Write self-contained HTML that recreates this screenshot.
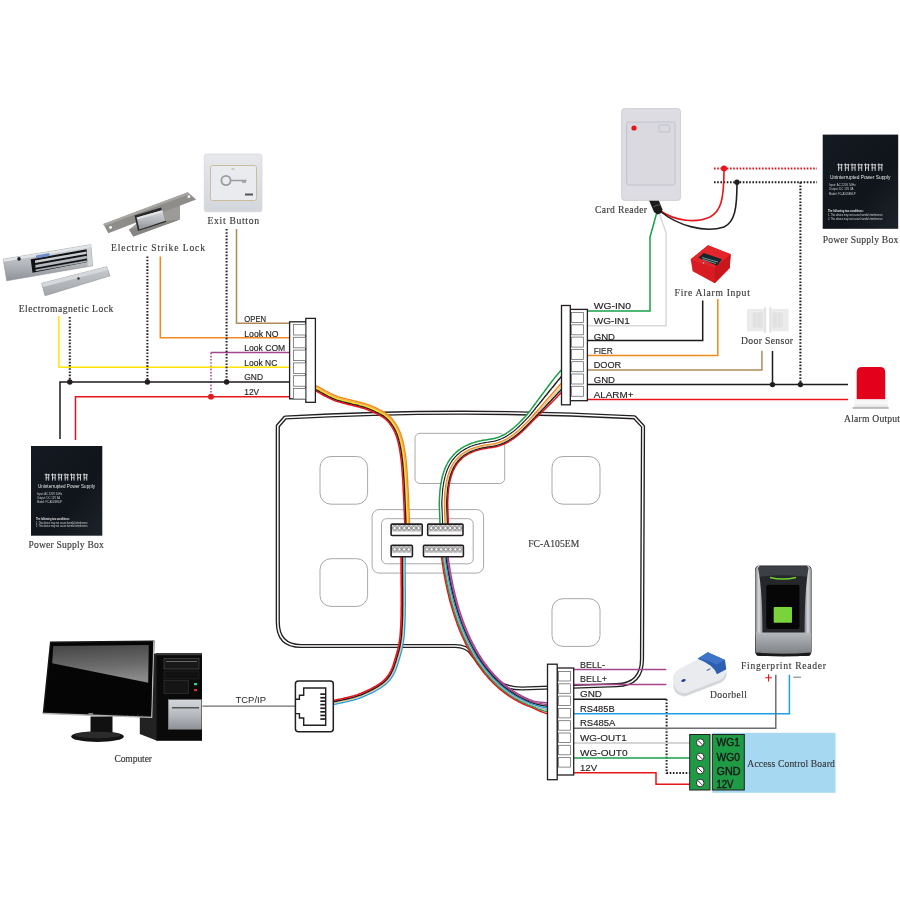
<!DOCTYPE html>
<html><head><meta charset="utf-8">
<style>
html,body{margin:0;padding:0;background:#fff;width:900px;height:900px;overflow:hidden}
svg{display:block;will-change:transform}
.lb{font-family:"Liberation Sans",sans-serif;fill:#231f20}
.cap{font-family:"Liberation Serif",serif;fill:#3a3a3a;stroke:#3a3a3a;stroke-width:0.15}
</style></head><body>
<svg width="900" height="900" viewBox="0 0 900 900">
<rect width="900" height="900" fill="#fff"/>
<!-- ===== BOARD ===== -->
<g id="board" fill="none">
<path d="M285.2,417.5 Q460,408 634.4,417.3 L643,426.4 L642,659 Q642,684.5 617,685.2 L522,688.5 Q506,688.5 495,680.5 L472,654 Q467,646 455,646 L301,646 Q277.8,646 277.8,622 L277.8,426 Z" stroke="#231f20" stroke-width="4.2" stroke-linejoin="round"/>
<path d="M285.2,417.5 Q460,408 634.4,417.3 L643,426.4 L642,659 Q642,684.5 617,685.2 L522,688.5 Q506,688.5 495,680.5 L472,654 Q467,646 455,646 L301,646 Q277.8,646 277.8,622 L277.8,426 Z" stroke="#fff" stroke-width="1.5" stroke-linejoin="round"/>
<g stroke="#a8a8a8" stroke-width="1">
<rect x="320" y="456.5" width="47.6" height="47.7" rx="11"/>
<rect x="320" y="558.7" width="47.6" height="47.7" rx="11"/>
<rect x="552" y="456.5" width="48" height="47.7" rx="11"/>
<rect x="552" y="598.7" width="48" height="47.7" rx="11"/>
<rect x="415" y="433.3" width="89.7" height="50.2" rx="5"/>
<rect x="372.1" y="509.6" width="111.5" height="63.5" rx="7"/>
<rect x="381.5" y="518.7" width="91.7" height="45.1" rx="5"/>
</g>
<text x="528.2" y="547.1" class="cap" font-size="9.6" textLength="51" lengthAdjust="spacing" stroke="#3a3a3a" stroke-width="0.15">FC-A105EM</text>
</g>



<g id="cables"><polyline fill="none" stroke="#f08a1c" stroke-width="1.50" stroke-linejoin="round" points="309.1,382.8 309.0,382.9 308.8,383.1 308.7,383.3 308.7,383.4 308.8,383.5 308.9,383.6 309.2,383.7 309.4,383.8 309.8,383.9 310.1,383.9 310.5,384.0 310.9,384.1 311.3,384.2 311.8,384.4 312.2,384.5 312.7,384.7 313.1,384.8 313.6,385.0 314.1,385.3 314.6,385.5 315.1,385.7 315.7,385.8 316.3,386.0 316.9,386.3 317.5,386.5 318.2,386.8 318.8,387.1 319.5,387.5 320.2,387.9 320.9,388.2 321.6,388.6 322.3,389.0 323.1,389.5 323.8,389.9 324.6,390.4 325.4,390.8 326.3,391.3 327.1,391.7 328.0,392.2 328.9,392.7 329.8,393.2 330.7,393.6 331.7,394.1 332.6,394.5 333.6,395.0 334.7,395.4 335.7,395.8 336.8,396.2 337.9,396.6 339.2,397.0 340.4,397.4 341.8,397.8 343.2,398.2 344.6,398.6 346.1,398.9 347.6,399.3 349.2,399.7 350.8,400.1 352.4,400.5 354.0,400.9 355.6,401.3 357.2,401.7 358.8,402.1 360.4,402.5 362.0,402.9 363.5,403.3 365.0,403.8 366.5,404.3 368.0,404.7 369.3,405.2 370.7,405.8 372.0,406.3 373.1,406.8 374.3,407.3 375.4,407.8 376.5,408.3 377.6,408.8 378.6,409.3 379.7,409.9 380.7,410.4 381.7,410.9 382.7,411.5 383.6,412.0 384.6,412.6 385.5,413.2 386.4,413.8 387.3,414.5 388.2,415.2 389.0,415.9 389.9,416.7 390.7,417.5 391.5,418.3 392.3,419.2 393.0,420.2 393.8,421.1 394.5,422.1 395.2,423.2 395.8,424.2 396.4,425.2 397.0,426.2 397.6,427.2 398.2,428.3 398.7,429.4 399.2,430.5 399.7,431.6 400.2,432.8 400.7,434.0 401.1,435.3 401.5,436.6 401.9,437.9 402.3,439.3 402.7,440.8 403.1,442.3 403.4,443.9 403.8,445.6 404.1,447.3 404.4,449.1 404.7,451.0 405.1,453.1 405.4,455.2 405.7,457.5 406.0,460.0 406.3,462.7 406.5,465.6 406.8,468.7 407.0,471.9 407.2,475.2 407.4,478.6 407.7,482.1 407.8,485.6 408.0,489.1 408.2,492.6 408.4,496.1 408.5,499.6 408.7,502.9 408.8,506.2 408.9,509.3 409.1,512.3 409.2,515.2 409.3,517.8 409.4,520.2 409.5,522.4 409.6,524.3 409.7,525.9"/>
<polyline fill="none" stroke="#f5a94a" stroke-width="1.50" stroke-linejoin="round" points="309.1,385.4 309.1,385.5 309.1,385.5 309.1,385.6 309.2,385.7 309.3,385.7 309.5,385.7 309.7,385.8 309.9,385.8 310.2,385.8 310.4,385.8 310.7,385.8 311.1,385.9 311.4,385.9 311.8,386.0 312.2,386.0 312.6,386.1 313.0,386.2 313.4,386.4 313.8,386.5 314.3,386.7 314.8,386.8 315.3,387.0 315.9,387.2 316.4,387.4 317.0,387.6 317.7,387.9 318.3,388.2 319.0,388.6 319.6,388.9 320.3,389.3 321.0,389.7 321.7,390.1 322.5,390.5 323.2,391.0 324.0,391.4 324.8,391.9 325.7,392.3 326.5,392.8 327.4,393.3 328.3,393.8 329.2,394.2 330.2,394.7 331.1,395.2 332.1,395.6 333.2,396.1 334.2,396.5 335.3,397.0 336.4,397.4 337.6,397.8 338.8,398.2 340.1,398.6 341.4,399.0 342.9,399.3 344.3,399.7 345.8,400.1 347.3,400.5 348.9,400.9 350.5,401.2 352.1,401.6 353.7,402.0 355.3,402.4 356.9,402.8 358.5,403.2 360.1,403.6 361.6,404.1 363.2,404.5 364.7,404.9 366.1,405.4 367.6,405.9 368.9,406.4 370.2,406.9 371.5,407.4 372.7,407.9 373.8,408.4 374.9,408.9 376.0,409.4 377.1,409.9 378.1,410.4 379.1,410.9 380.1,411.4 381.1,412.0 382.1,412.5 383.0,413.0 383.9,413.6 384.8,414.2 385.7,414.8 386.6,415.5 387.4,416.1 388.2,416.8 389.0,417.6 389.8,418.3 390.6,419.1 391.3,420.0 392.1,420.9 392.8,421.8 393.5,422.8 394.2,423.8 394.8,424.8 395.4,425.8 396.0,426.8 396.6,427.8 397.1,428.9 397.6,429.9 398.1,431.0 398.6,432.1 399.1,433.2 399.5,434.4 400.0,435.6 400.4,436.9 400.8,438.2 401.2,439.6 401.5,441.1 401.9,442.6 402.2,444.1 402.6,445.8 402.9,447.5 403.2,449.3 403.6,451.2 403.9,453.2 404.2,455.3 404.5,457.6 404.8,460.1 405.1,462.8 405.3,465.7 405.6,468.8 405.8,472.0 406.0,475.3 406.2,478.7 406.5,482.1 406.6,485.7 406.8,489.2 407.0,492.7 407.2,496.2 407.3,499.6 407.5,503.0 407.6,506.2 407.7,509.4 407.9,512.4 408.0,515.2 408.1,517.8 408.2,520.2 408.3,522.4 408.4,524.3 408.5,525.9"/>
<polyline fill="none" stroke="#f7e51e" stroke-width="1.50" stroke-linejoin="round" points="309.0,388.0 309.1,388.0 309.3,388.0 309.5,388.0 309.6,387.9 309.8,387.9 310.0,387.9 310.1,387.8 310.3,387.8 310.5,387.7 310.8,387.7 311.0,387.7 311.2,387.6 311.5,387.6 311.8,387.6 312.1,387.6 312.4,387.6 312.8,387.6 313.2,387.7 313.6,387.8 314.0,387.9 314.5,388.0 314.9,388.1 315.5,388.3 316.0,388.5 316.6,388.7 317.2,389.0 317.8,389.3 318.4,389.6 319.1,390.0 319.7,390.3 320.4,390.7 321.1,391.1 321.9,391.6 322.7,392.0 323.4,392.4 324.2,392.9 325.1,393.4 325.9,393.9 326.8,394.3 327.7,394.8 328.7,395.3 329.6,395.8 330.6,396.3 331.6,396.7 332.7,397.2 333.8,397.6 334.9,398.1 336.0,398.5 337.2,398.9 338.4,399.3 339.7,399.7 341.1,400.1 342.5,400.5 344.0,400.9 345.5,401.3 347.1,401.6 348.6,402.0 350.2,402.4 351.8,402.8 353.4,403.2 355.0,403.6 356.6,404.0 358.2,404.4 359.8,404.8 361.3,405.2 362.8,405.6 364.3,406.1 365.8,406.5 367.2,407.0 368.5,407.5 369.8,408.0 371.0,408.5 372.2,409.0 373.3,409.5 374.4,410.0 375.5,410.5 376.5,411.0 377.6,411.5 378.6,412.0 379.6,412.5 380.5,413.0 381.5,413.5 382.4,414.1 383.3,414.6 384.2,415.2 385.0,415.8 385.8,416.4 386.6,417.1 387.4,417.7 388.2,418.4 389.0,419.2 389.7,420.0 390.4,420.8 391.1,421.6 391.8,422.5 392.5,423.5 393.2,424.5 393.8,425.4 394.4,426.4 395.0,427.4 395.5,428.4 396.0,429.4 396.6,430.4 397.0,431.5 397.5,432.6 398.0,433.7 398.4,434.8 398.8,436.0 399.2,437.3 399.6,438.6 400.0,439.9 400.4,441.4 400.7,442.8 401.1,444.4 401.4,446.0 401.7,447.7 402.1,449.5 402.4,451.4 402.7,453.4 403.0,455.5 403.3,457.8 403.6,460.3 403.9,463.0 404.1,465.8 404.4,468.9 404.6,472.1 404.8,475.4 405.1,478.8 405.3,482.2 405.4,485.7 405.6,489.2 405.8,492.8 406.0,496.2 406.1,499.7 406.3,503.0 406.4,506.3 406.5,509.4 406.7,512.4 406.8,515.3 406.9,517.9 407.0,520.3 407.1,522.5 407.2,524.4 407.3,526.0"/>
<polyline fill="none" stroke="#231f20" stroke-width="1.50" stroke-linejoin="round" points="308.9,390.6 309.2,390.5 309.5,390.4 309.8,390.3 310.1,390.2 310.3,390.1 310.5,390.0 310.6,389.9 310.8,389.8 310.9,389.7 311.1,389.6 311.2,389.5 311.4,389.4 311.6,389.3 311.8,389.2 312.1,389.1 312.3,389.1 312.6,389.0 313.0,389.0 313.3,389.0 313.7,389.0 314.1,389.1 314.6,389.3 315.1,389.4 315.6,389.6 316.1,389.8 316.7,390.1 317.2,390.4 317.9,390.7 318.5,391.0 319.2,391.4 319.8,391.8 320.6,392.2 321.3,392.6 322.1,393.0 322.8,393.5 323.7,394.0 324.5,394.4 325.4,394.9 326.3,395.4 327.2,395.9 328.1,396.4 329.1,396.9 330.1,397.3 331.2,397.8 332.2,398.3 333.3,398.7 334.4,399.2 335.6,399.6 336.8,400.1 338.1,400.5 339.4,400.9 340.8,401.3 342.2,401.7 343.7,402.0 345.2,402.4 346.8,402.8 348.3,403.2 349.9,403.6 351.5,404.0 353.1,404.4 354.7,404.7 356.3,405.1 357.9,405.5 359.5,406.0 361.0,406.4 362.5,406.8 364.0,407.2 365.4,407.7 366.8,408.1 368.1,408.6 369.3,409.1 370.5,409.6 371.7,410.1 372.8,410.6 373.9,411.1 375.0,411.6 376.0,412.1 377.1,412.6 378.1,413.1 379.0,413.6 380.0,414.1 380.9,414.6 381.8,415.1 382.6,415.6 383.5,416.2 384.3,416.8 385.1,417.4 385.9,418.0 386.6,418.6 387.4,419.3 388.1,420.0 388.8,420.8 389.5,421.6 390.2,422.4 390.9,423.3 391.5,424.2 392.2,425.1 392.8,426.1 393.4,427.0 393.9,428.0 394.5,429.0 395.0,429.9 395.5,430.9 396.0,432.0 396.4,433.0 396.9,434.1 397.3,435.2 397.7,436.4 398.1,437.6 398.5,438.9 398.8,440.2 399.2,441.6 399.6,443.1 399.9,444.6 400.2,446.3 400.6,448.0 400.9,449.7 401.2,451.6 401.5,453.6 401.8,455.7 402.1,457.9 402.4,460.4 402.7,463.1 402.9,465.9 403.2,469.0 403.4,472.2 403.6,475.4 403.9,478.8 404.1,482.3 404.3,485.8 404.4,489.3 404.6,492.8 404.8,496.3 404.9,499.7 405.1,503.1 405.2,506.3 405.3,509.5 405.5,512.5 405.6,515.3 405.7,517.9 405.8,520.4 405.9,522.5 406.0,524.4 406.1,526.1"/>
<polyline fill="none" stroke="#e8141c" stroke-width="1.50" stroke-linejoin="round" points="308.9,393.2 309.3,393.1 309.8,392.9 310.2,392.7 310.5,392.5 310.8,392.3 311.0,392.1 311.1,391.9 311.2,391.8 311.3,391.6 311.4,391.4 311.5,391.3 311.6,391.1 311.7,391.0 311.9,390.8 312.0,390.7 312.2,390.6 312.5,390.4 312.8,390.3 313.1,390.3 313.4,390.2 313.8,390.3 314.2,390.4 314.7,390.6 315.1,390.7 315.6,390.9 316.2,391.2 316.7,391.4 317.3,391.7 317.9,392.1 318.6,392.4 319.3,392.8 320.0,393.2 320.7,393.6 321.5,394.1 322.2,394.5 323.1,395.0 323.9,395.5 324.8,396.0 325.7,396.4 326.6,396.9 327.6,397.4 328.6,397.9 329.6,398.4 330.7,398.9 331.7,399.4 332.9,399.9 334.0,400.3 335.2,400.8 336.4,401.2 337.7,401.6 339.1,402.0 340.5,402.4 341.9,402.8 343.4,403.2 344.9,403.6 346.5,404.0 348.1,404.4 349.6,404.7 351.2,405.1 352.8,405.5 354.4,405.9 356.0,406.3 357.6,406.7 359.2,407.1 360.7,407.5 362.2,408.0 363.6,408.4 365.0,408.8 366.4,409.3 367.7,409.7 368.9,410.2 370.0,410.7 371.2,411.2 372.3,411.7 373.4,412.2 374.5,412.7 375.5,413.2 376.5,413.7 377.5,414.1 378.5,414.6 379.4,415.1 380.3,415.6 381.1,416.1 382.0,416.6 382.8,417.2 383.6,417.7 384.4,418.3 385.1,418.9 385.9,419.5 386.6,420.2 387.3,420.9 387.9,421.6 388.6,422.3 389.3,423.1 389.9,424.0 390.5,424.9 391.1,425.8 391.7,426.7 392.3,427.7 392.9,428.6 393.4,429.5 393.9,430.5 394.4,431.5 394.9,432.5 395.3,433.5 395.7,434.6 396.1,435.7 396.6,436.8 396.9,438.0 397.3,439.2 397.7,440.6 398.0,441.9 398.4,443.4 398.7,444.9 399.1,446.5 399.4,448.2 399.7,450.0 400.0,451.8 400.3,453.8 400.6,455.8 400.9,458.1 401.2,460.5 401.5,463.2 401.7,466.0 402.0,469.1 402.2,472.2 402.4,475.5 402.7,478.9 402.9,482.4 403.1,485.8 403.2,489.4 403.4,492.9 403.6,496.3 403.7,499.8 403.9,503.1 404.0,506.4 404.1,509.5 404.3,512.5 404.4,515.4 404.5,518.0 404.6,520.4 404.7,522.6 404.8,524.5 404.9,526.1"/>
<polyline fill="none" stroke="#e8141c" stroke-width="1.50" stroke-linejoin="round" points="573.3,379.5 566.7,387.0 565.3,388.4 564.0,389.8 562.6,391.2 561.3,392.6 559.9,393.9 558.6,395.3 557.4,396.6 556.1,397.9 554.9,399.2 553.6,400.4 552.4,401.7 551.2,402.9 550.0,404.1 548.9,405.2 547.7,406.4 546.6,407.5 545.5,408.6 544.4,409.7 543.3,410.8 542.2,411.9 541.1,412.9 540.1,413.9 539.0,414.9 538.0,415.9 537.0,416.9 536.0,417.8 535.0,418.8 534.0,419.7 533.0,420.6 532.2,421.5 531.3,422.4 530.4,423.4 529.6,424.3 528.7,425.1 527.9,426.0 527.1,426.8 526.2,427.7 525.4,428.5 524.6,429.3 523.8,430.0 523.0,430.8 522.2,431.6 521.4,432.3 520.6,433.0 519.8,433.7 519.0,434.4 518.2,435.0 517.4,435.7 516.6,436.3 515.8,436.9 515.0,437.5 514.2,438.1 513.4,438.6 512.7,439.2 511.9,439.7 511.1,440.2 510.3,440.7 509.5,441.2 508.7,441.7 507.8,442.1 507.0,442.6 506.2,443.0 505.4,443.4 504.6,443.8 503.7,444.1 502.9,444.5 502.0,444.8 501.2,445.1 500.3,445.4 499.5,445.7 498.6,446.0 497.7,446.2 496.9,446.5 496.0,446.7 495.1,446.9 494.2,447.1 493.3,447.3 492.4,447.4 491.4,447.5 490.5,447.7 489.3,447.8 488.1,448.0 486.9,448.2 485.8,448.4 484.6,448.6 483.5,448.8 482.5,449.0 481.4,449.2 480.3,449.5 479.3,449.7 478.3,450.0 477.3,450.3 476.4,450.6 475.4,450.9 474.5,451.2 473.6,451.6 472.8,451.9 471.9,452.3 471.1,452.6 470.2,453.0 469.4,453.4 468.7,453.8 467.9,454.2 467.2,454.6 466.4,455.1 465.7,455.5 465.0,456.0 464.4,456.5 463.7,457.0 463.1,457.5 462.4,458.0 461.8,458.5 461.2,459.1 460.7,459.6 460.1,460.2 459.5,460.8 459.0,461.4 458.5,462.0 458.0,462.6 457.5,463.3 457.0,464.0 456.5,464.6 456.1,465.3 455.6,466.1 455.2,466.8 454.8,467.5 454.4,468.3 454.0,469.1 453.6,469.9 453.2,470.7 452.9,471.6 452.5,472.4 452.2,473.3 451.9,474.2 451.6,475.1 451.3,476.1 451.0,477.0 450.7,478.0 450.4,479.0 450.2,480.1 450.0,481.1 449.7,482.2 449.5,483.2 449.3,484.4 449.1,485.5 449.0,486.6 448.8,487.8 448.6,489.0 448.5,490.2 448.4,491.5 448.3,492.7 448.1,494.0 448.0,495.3 448.0,496.6 447.9,498.0 447.8,499.3 447.8,500.7 447.7,502.1 447.7,503.6 447.7,504.9 448.5,525.8"/>
<polyline fill="none" stroke="#231f20" stroke-width="1.50" stroke-linejoin="round" points="571.7,378.1 565.1,385.5 563.7,387.0 562.4,388.4 561.0,389.9 559.7,391.3 558.4,392.6 557.2,394.0 555.9,395.3 554.7,396.7 553.4,397.9 552.2,399.2 551.1,400.5 549.9,401.7 548.7,402.9 547.6,404.1 546.5,405.3 545.4,406.5 544.3,407.6 543.2,408.7 542.1,409.8 541.1,410.9 540.0,412.0 539.0,413.0 538.0,414.0 537.0,415.0 536.0,416.0 535.0,417.0 534.1,417.9 533.1,418.8 532.2,419.7 531.3,420.7 530.4,421.6 529.6,422.5 528.7,423.4 527.9,424.3 527.0,425.2 526.2,426.0 525.4,426.8 524.6,427.6 523.8,428.4 523.0,429.2 522.2,429.9 521.4,430.7 520.6,431.4 519.8,432.1 519.0,432.8 518.2,433.4 517.4,434.1 516.6,434.7 515.9,435.3 515.1,436.0 514.3,436.5 513.5,437.1 512.8,437.7 512.0,438.2 511.2,438.7 510.4,439.2 509.6,439.7 508.8,440.2 508.1,440.6 507.3,441.1 506.5,441.5 505.7,441.9 504.9,442.3 504.1,442.7 503.3,443.0 502.4,443.4 501.6,443.7 500.8,444.0 500.0,444.3 499.1,444.6 498.3,444.8 497.4,445.1 496.6,445.3 495.7,445.5 494.8,445.7 494.0,445.9 493.1,446.1 492.2,446.2 491.3,446.4 490.4,446.5 489.1,446.6 487.9,446.8 486.7,447.0 485.6,447.2 484.4,447.4 483.3,447.6 482.2,447.8 481.1,448.1 480.1,448.3 479.0,448.6 478.0,448.9 477.0,449.1 476.0,449.5 475.1,449.8 474.1,450.1 473.2,450.4 472.3,450.8 471.4,451.2 470.6,451.5 469.7,451.9 468.9,452.3 468.1,452.7 467.3,453.2 466.5,453.6 465.8,454.1 465.1,454.5 464.4,455.0 463.7,455.5 463.0,456.0 462.3,456.5 461.7,457.1 461.0,457.6 460.4,458.2 459.8,458.8 459.2,459.4 458.7,460.0 458.1,460.6 457.6,461.2 457.0,461.9 456.5,462.6 456.0,463.3 455.5,464.0 455.1,464.7 454.6,465.4 454.2,466.2 453.7,467.0 453.3,467.8 452.9,468.6 452.5,469.4 452.1,470.2 451.8,471.1 451.4,472.0 451.1,472.9 450.7,473.8 450.4,474.8 450.1,475.7 449.8,476.7 449.6,477.7 449.3,478.7 449.0,479.8 448.8,480.8 448.6,481.9 448.3,483.0 448.1,484.2 448.0,485.3 447.8,486.5 447.6,487.7 447.4,488.9 447.3,490.1 447.2,491.3 447.1,492.6 446.9,493.9 446.9,495.2 446.8,496.6 446.7,497.9 446.6,499.3 446.6,500.7 446.5,502.1 446.5,503.6 446.5,504.9 447.3,525.9"/>
<polyline fill="none" stroke="#e6c9a0" stroke-width="1.50" stroke-linejoin="round" points="570.0,376.7 563.5,384.1 562.1,385.6 560.8,387.1 559.5,388.5 558.2,389.9 556.9,391.3 555.7,392.7 554.4,394.1 553.2,395.4 552.0,396.7 550.8,398.0 549.7,399.3 548.5,400.6 547.4,401.8 546.3,403.0 545.2,404.2 544.1,405.4 543.1,406.6 542.0,407.7 541.0,408.8 539.9,409.9 538.9,411.0 537.9,412.0 536.9,413.1 536.0,414.1 535.0,415.1 534.1,416.1 533.1,417.1 532.2,418.0 531.3,418.9 530.4,419.9 529.5,420.8 528.7,421.7 527.8,422.6 527.0,423.5 526.2,424.3 525.4,425.1 524.5,426.0 523.7,426.8 522.9,427.5 522.1,428.3 521.3,429.1 520.5,429.8 519.8,430.5 519.0,431.2 518.2,431.9 517.4,432.5 516.7,433.2 515.9,433.8 515.1,434.4 514.4,435.0 513.6,435.6 512.8,436.1 512.1,436.7 511.3,437.2 510.5,437.7 509.8,438.2 509.0,438.7 508.2,439.2 507.5,439.6 506.7,440.0 505.9,440.4 505.1,440.8 504.4,441.2 503.6,441.6 502.8,441.9 502.0,442.3 501.2,442.6 500.4,442.9 499.6,443.2 498.8,443.4 497.9,443.7 497.1,443.9 496.3,444.2 495.4,444.4 494.6,444.6 493.7,444.7 492.9,444.9 492.0,445.0 491.1,445.2 490.2,445.3 489.0,445.4 487.7,445.6 486.5,445.8 485.4,446.0 484.2,446.2 483.1,446.4 481.9,446.6 480.8,446.9 479.8,447.1 478.7,447.4 477.7,447.7 476.7,448.0 475.7,448.3 474.7,448.6 473.7,449.0 472.8,449.3 471.9,449.7 471.0,450.0 470.1,450.4 469.2,450.8 468.4,451.3 467.5,451.7 466.7,452.1 465.9,452.6 465.2,453.1 464.4,453.5 463.7,454.0 462.9,454.5 462.2,455.1 461.6,455.6 460.9,456.2 460.2,456.7 459.6,457.3 459.0,457.9 458.4,458.5 457.8,459.2 457.2,459.8 456.6,460.5 456.1,461.2 455.6,461.9 455.0,462.6 454.5,463.3 454.1,464.0 453.6,464.8 453.1,465.6 452.7,466.4 452.2,467.2 451.8,468.0 451.4,468.9 451.0,469.8 450.7,470.7 450.3,471.6 449.9,472.5 449.6,473.4 449.3,474.4 449.0,475.4 448.7,476.4 448.4,477.4 448.1,478.4 447.9,479.5 447.6,480.6 447.4,481.7 447.2,482.8 447.0,483.9 446.8,485.1 446.6,486.3 446.4,487.5 446.3,488.7 446.1,490.0 446.0,491.2 445.9,492.5 445.8,493.8 445.7,495.1 445.6,496.5 445.5,497.9 445.4,499.2 445.4,500.7 445.3,502.1 445.3,503.5 445.3,504.9 446.1,525.9"/>
<polyline fill="none" stroke="#f08a1c" stroke-width="1.50" stroke-linejoin="round" points="568.3,375.2 561.8,382.7 560.5,384.2 559.2,385.7 557.9,387.2 556.6,388.6 555.4,390.0 554.2,391.4 553.0,392.8 551.8,394.2 550.6,395.5 549.5,396.8 548.3,398.1 547.2,399.4 546.1,400.7 545.0,401.9 543.9,403.1 542.9,404.3 541.8,405.5 540.8,406.7 539.8,407.8 538.8,408.9 537.8,410.0 536.9,411.1 535.9,412.2 535.0,413.2 534.0,414.2 533.1,415.2 532.2,416.2 531.3,417.2 530.4,418.1 529.5,419.1 528.7,420.0 527.8,420.9 527.0,421.8 526.1,422.6 525.3,423.5 524.5,424.3 523.7,425.1 522.9,425.9 522.1,426.7 521.3,427.4 520.5,428.2 519.7,428.9 519.0,429.6 518.2,430.3 517.4,431.0 516.7,431.6 515.9,432.2 515.1,432.9 514.4,433.5 513.6,434.0 512.9,434.6 512.1,435.2 511.4,435.7 510.6,436.2 509.9,436.7 509.1,437.2 508.4,437.7 507.6,438.1 506.9,438.6 506.1,439.0 505.4,439.4 504.6,439.8 503.8,440.1 503.1,440.5 502.3,440.8 501.5,441.2 500.8,441.5 500.0,441.8 499.2,442.0 498.4,442.3 497.6,442.5 496.8,442.8 496.0,443.0 495.2,443.2 494.3,443.4 493.5,443.6 492.7,443.7 491.8,443.9 490.9,444.0 490.1,444.1 488.8,444.3 487.6,444.4 486.4,444.6 485.2,444.8 484.0,445.0 482.8,445.2 481.7,445.5 480.6,445.7 479.5,446.0 478.4,446.3 477.3,446.5 476.3,446.8 475.3,447.2 474.3,447.5 473.3,447.8 472.4,448.2 471.4,448.6 470.5,448.9 469.6,449.3 468.7,449.8 467.8,450.2 467.0,450.6 466.1,451.1 465.3,451.5 464.5,452.0 463.7,452.5 463.0,453.0 462.2,453.6 461.5,454.1 460.8,454.7 460.1,455.3 459.4,455.8 458.8,456.5 458.1,457.1 457.5,457.7 456.9,458.4 456.3,459.0 455.7,459.7 455.1,460.4 454.6,461.1 454.1,461.9 453.5,462.6 453.0,463.4 452.5,464.2 452.1,465.0 451.6,465.8 451.2,466.7 450.7,467.5 450.3,468.4 449.9,469.3 449.5,470.2 449.2,471.1 448.8,472.1 448.5,473.0 448.1,474.0 447.8,475.0 447.5,476.0 447.2,477.1 447.0,478.1 446.7,479.2 446.4,480.3 446.2,481.4 446.0,482.6 445.8,483.7 445.6,484.9 445.4,486.1 445.2,487.3 445.1,488.6 444.9,489.8 444.8,491.1 444.7,492.4 444.6,493.7 444.5,495.1 444.4,496.4 444.3,497.8 444.2,499.2 444.2,500.6 444.1,502.1 444.1,503.5 444.1,505.0 444.9,526.0"/>
<polyline fill="none" stroke="#ffffff" stroke-width="1.50" stroke-linejoin="round" points="566.7,373.8 560.2,381.3 558.9,382.8 557.6,384.3 556.3,385.8 555.1,387.3 553.9,388.7 552.7,390.2 551.5,391.6 550.3,392.9 549.2,394.3 548.1,395.6 547.0,397.0 545.9,398.3 544.8,399.5 543.7,400.8 542.7,402.0 541.7,403.3 540.6,404.5 539.6,405.6 538.7,406.8 537.7,407.9 536.7,409.1 535.8,410.2 534.9,411.2 533.9,412.3 533.0,413.3 532.1,414.4 531.2,415.4 530.4,416.3 529.5,417.3 528.6,418.2 527.8,419.2 526.9,420.1 526.1,420.9 525.3,421.8 524.5,422.6 523.7,423.5 522.8,424.3 522.0,425.0 521.3,425.8 520.5,426.6 519.7,427.3 518.9,428.0 518.2,428.7 517.4,429.4 516.6,430.0 515.9,430.7 515.1,431.3 514.4,431.9 513.6,432.5 512.9,433.1 512.2,433.6 511.4,434.2 510.7,434.7 510.0,435.2 509.2,435.7 508.5,436.2 507.8,436.6 507.0,437.1 506.3,437.5 505.5,437.9 504.8,438.3 504.1,438.7 503.3,439.1 502.6,439.4 501.8,439.7 501.1,440.0 500.3,440.3 499.6,440.6 498.8,440.9 498.0,441.2 497.2,441.4 496.5,441.6 495.7,441.8 494.9,442.0 494.1,442.2 493.3,442.4 492.4,442.5 491.6,442.7 490.8,442.8 489.9,442.9 488.7,443.1 487.4,443.2 486.2,443.4 485.0,443.6 483.8,443.8 482.6,444.1 481.4,444.3 480.3,444.6 479.2,444.8 478.1,445.1 477.0,445.4 476.0,445.7 474.9,446.0 473.9,446.4 472.9,446.7 471.9,447.1 471.0,447.4 470.0,447.8 469.1,448.2 468.2,448.7 467.3,449.1 466.4,449.6 465.6,450.0 464.7,450.5 463.9,451.0 463.1,451.5 462.3,452.1 461.5,452.6 460.8,453.2 460.0,453.7 459.3,454.3 458.6,455.0 457.9,455.6 457.3,456.2 456.6,456.9 456.0,457.6 455.4,458.3 454.8,459.0 454.2,459.7 453.6,460.4 453.1,461.2 452.5,462.0 452.0,462.8 451.5,463.6 451.0,464.4 450.6,465.2 450.1,466.1 449.7,467.0 449.2,467.9 448.8,468.8 448.4,469.7 448.1,470.7 447.7,471.7 447.3,472.6 447.0,473.7 446.7,474.7 446.4,475.7 446.1,476.8 445.8,477.9 445.5,479.0 445.3,480.1 445.0,481.2 444.8,482.4 444.6,483.5 444.4,484.7 444.2,485.9 444.0,487.2 443.9,488.4 443.7,489.7 443.6,491.0 443.5,492.3 443.4,493.6 443.3,495.0 443.2,496.3 443.1,497.7 443.0,499.1 443.0,500.6 442.9,502.0 442.9,503.5 442.9,505.0 443.7,526.0"/>
<polyline fill="none" stroke="#231f20" stroke-width="1.50" stroke-linejoin="round" points="565.0,372.3 558.5,379.9 557.3,381.4 556.0,383.0 554.8,384.5 553.6,386.0 552.4,387.4 551.2,388.9 550.0,390.3 548.9,391.7 547.8,393.1 546.7,394.5 545.6,395.8 544.5,397.1 543.5,398.4 542.4,399.7 541.4,401.0 540.4,402.2 539.4,403.4 538.5,404.6 537.5,405.8 536.6,406.9 535.6,408.1 534.7,409.2 533.8,410.3 532.9,411.4 532.0,412.4 531.2,413.5 530.3,414.5 529.5,415.5 528.6,416.5 527.8,417.4 526.9,418.3 526.1,419.2 525.2,420.1 524.4,421.0 523.6,421.8 522.8,422.6 522.0,423.4 521.2,424.2 520.4,425.0 519.6,425.7 518.9,426.4 518.1,427.1 517.4,427.8 516.6,428.5 515.9,429.1 515.1,429.8 514.4,430.4 513.6,431.0 512.9,431.6 512.2,432.1 511.4,432.7 510.7,433.2 510.0,433.7 509.3,434.2 508.6,434.7 507.8,435.2 507.1,435.6 506.4,436.1 505.7,436.5 505.0,436.9 504.3,437.2 503.5,437.6 502.8,438.0 502.1,438.3 501.4,438.6 500.6,438.9 499.9,439.2 499.2,439.5 498.4,439.8 497.7,440.0 496.9,440.2 496.1,440.5 495.4,440.7 494.6,440.9 493.8,441.0 493.0,441.2 492.2,441.3 491.4,441.5 490.6,441.6 489.8,441.7 488.5,441.9 487.2,442.1 486.0,442.2 484.8,442.4 483.6,442.7 482.4,442.9 481.2,443.1 480.0,443.4 478.9,443.7 477.8,443.9 476.7,444.2 475.6,444.5 474.6,444.9 473.5,445.2 472.5,445.6 471.5,445.9 470.5,446.3 469.5,446.7 468.6,447.2 467.7,447.6 466.7,448.0 465.8,448.5 465.0,449.0 464.1,449.5 463.3,450.0 462.4,450.5 461.6,451.1 460.8,451.6 460.1,452.2 459.3,452.8 458.6,453.4 457.8,454.1 457.1,454.7 456.4,455.4 455.8,456.1 455.1,456.7 454.5,457.5 453.9,458.2 453.3,458.9 452.7,459.7 452.1,460.5 451.5,461.3 451.0,462.1 450.5,463.0 450.0,463.8 449.5,464.7 449.0,465.6 448.6,466.5 448.2,467.4 447.7,468.3 447.3,469.3 446.9,470.3 446.6,471.2 446.2,472.3 445.9,473.3 445.5,474.3 445.2,475.4 444.9,476.5 444.6,477.6 444.4,478.7 444.1,479.8 443.9,481.0 443.6,482.1 443.4,483.3 443.2,484.5 443.0,485.8 442.8,487.0 442.7,488.3 442.5,489.6 442.4,490.9 442.3,492.2 442.2,493.5 442.1,494.9 442.0,496.3 441.9,497.7 441.8,499.1 441.8,500.5 441.7,502.0 441.7,503.5 441.7,505.1 442.5,526.1"/>
<polyline fill="none" stroke="#ffffff" stroke-width="1.50" stroke-linejoin="round" points="563.3,370.9 556.9,378.5 555.7,380.0 554.4,381.6 553.2,383.1 552.0,384.6 550.8,386.1 549.7,387.6 548.6,389.0 547.4,390.5 546.4,391.9 545.3,393.3 544.2,394.6 543.2,396.0 542.2,397.3 541.1,398.6 540.2,399.9 539.2,401.1 538.2,402.4 537.3,403.6 536.3,404.8 535.4,406.0 534.5,407.1 533.6,408.3 532.8,409.4 531.9,410.5 531.0,411.6 530.2,412.6 529.4,413.7 528.6,414.7 527.7,415.7 526.9,416.6 526.0,417.5 525.2,418.4 524.4,419.3 523.6,420.1 522.7,421.0 521.9,421.8 521.2,422.6 520.4,423.3 519.6,424.1 518.8,424.8 518.1,425.5 517.3,426.2 516.6,426.9 515.8,427.6 515.1,428.2 514.3,428.9 513.6,429.5 512.9,430.1 512.2,430.6 511.4,431.2 510.7,431.7 510.0,432.2 509.3,432.7 508.6,433.2 507.9,433.7 507.2,434.2 506.5,434.6 505.8,435.0 505.1,435.4 504.4,435.8 503.7,436.2 503.0,436.5 502.3,436.9 501.6,437.2 500.9,437.5 500.2,437.8 499.5,438.1 498.7,438.4 498.0,438.6 497.3,438.9 496.6,439.1 495.8,439.3 495.1,439.5 494.3,439.7 493.6,439.9 492.8,440.0 492.0,440.2 491.2,440.3 490.4,440.4 489.6,440.5 488.3,440.7 487.1,440.9 485.8,441.1 484.6,441.3 483.3,441.5 482.1,441.7 480.9,442.0 479.8,442.2 478.6,442.5 477.5,442.8 476.4,443.1 475.3,443.4 474.2,443.7 473.1,444.1 472.1,444.4 471.1,444.8 470.1,445.2 469.1,445.6 468.1,446.1 467.1,446.5 466.2,447.0 465.3,447.4 464.4,447.9 463.5,448.5 462.6,449.0 461.8,449.5 460.9,450.1 460.1,450.7 459.3,451.3 458.5,451.9 457.8,452.5 457.0,453.2 456.3,453.8 455.6,454.5 454.9,455.2 454.2,455.9 453.6,456.7 452.9,457.4 452.3,458.2 451.7,459.0 451.1,459.8 450.6,460.6 450.0,461.5 449.5,462.3 449.0,463.2 448.5,464.1 448.0,465.0 447.5,465.9 447.1,466.9 446.6,467.8 446.2,468.8 445.8,469.8 445.4,470.8 445.1,471.9 444.7,472.9 444.4,474.0 444.1,475.1 443.8,476.2 443.5,477.3 443.2,478.4 442.9,479.6 442.7,480.7 442.5,481.9 442.2,483.1 442.0,484.3 441.8,485.6 441.7,486.9 441.5,488.1 441.3,489.4 441.2,490.7 441.1,492.1 441.0,493.4 440.9,494.8 440.8,496.2 440.7,497.6 440.6,499.0 440.6,500.5 440.5,502.0 440.5,503.5 440.5,505.1 441.3,526.1"/>
<polyline fill="none" stroke="#1aa04a" stroke-width="1.50" stroke-linejoin="round" points="561.7,369.5 555.3,377.0 554.0,378.6 552.8,380.2 551.6,381.8 550.5,383.3 549.3,384.8 548.2,386.3 547.1,387.8 546.0,389.2 544.9,390.7 543.9,392.1 542.9,393.5 541.8,394.8 540.8,396.2 539.9,397.5 538.9,398.8 537.9,400.1 537.0,401.3 536.1,402.6 535.2,403.8 534.3,405.0 533.4,406.2 532.6,407.3 531.7,408.4 530.9,409.6 530.0,410.7 529.2,411.7 528.4,412.8 527.6,413.8 526.9,414.9 526.0,415.8 525.2,416.7 524.3,417.6 523.5,418.4 522.7,419.3 521.9,420.1 521.1,420.9 520.3,421.7 519.5,422.5 518.8,423.2 518.0,424.0 517.2,424.7 516.5,425.4 515.8,426.0 515.0,426.7 514.3,427.3 513.6,427.9 512.8,428.5 512.1,429.1 511.4,429.7 510.7,430.2 510.0,430.8 509.3,431.3 508.6,431.8 507.9,432.2 507.2,432.7 506.6,433.1 505.9,433.6 505.2,434.0 504.5,434.4 503.8,434.8 503.1,435.1 502.5,435.5 501.8,435.8 501.1,436.1 500.4,436.4 499.7,436.7 499.0,437.0 498.3,437.2 497.6,437.5 496.9,437.7 496.2,437.9 495.5,438.2 494.8,438.3 494.1,438.5 493.3,438.7 492.6,438.8 491.8,439.0 491.0,439.1 490.3,439.2 489.5,439.3 488.2,439.5 486.9,439.7 485.6,439.9 484.4,440.1 483.1,440.3 481.9,440.5 480.7,440.8 479.5,441.0 478.3,441.3 477.2,441.6 476.0,441.9 474.9,442.3 473.8,442.6 472.8,442.9 471.7,443.3 470.6,443.7 469.6,444.1 468.6,444.5 467.6,445.0 466.6,445.4 465.7,445.9 464.7,446.4 463.8,446.9 462.9,447.4 462.0,448.0 461.1,448.5 460.3,449.1 459.4,449.7 458.6,450.3 457.8,450.9 457.0,451.6 456.2,452.3 455.5,453.0 454.7,453.7 454.0,454.4 453.3,455.1 452.7,455.9 452.0,456.7 451.4,457.5 450.7,458.3 450.1,459.1 449.6,460.0 449.0,460.8 448.4,461.7 447.9,462.6 447.4,463.5 446.9,464.5 446.4,465.4 446.0,466.4 445.5,467.4 445.1,468.4 444.7,469.4 444.3,470.4 443.9,471.5 443.6,472.5 443.2,473.6 442.9,474.7 442.6,475.8 442.3,477.0 442.0,478.1 441.8,479.3 441.5,480.5 441.3,481.7 441.0,482.9 440.8,484.2 440.6,485.4 440.5,486.7 440.3,488.0 440.1,489.3 440.0,490.6 439.9,492.0 439.8,493.3 439.7,494.7 439.6,496.1 439.5,497.6 439.4,499.0 439.4,500.5 439.3,501.9 439.3,503.4 439.3,505.1 440.1,526.2"/>
<polyline fill="none" stroke="#1ba1e2" stroke-width="1.60" stroke-linejoin="round" points="404.9,555.0 404.9,556.6 405.0,558.5 405.0,560.7 405.0,563.1 405.0,565.7 405.0,568.5 405.0,571.5 405.1,574.6 405.1,577.8 405.1,581.2 405.1,584.6 405.1,588.1 405.2,591.6 405.2,595.1 405.2,598.5 405.2,602.0 405.2,605.3 405.1,608.6 405.1,611.8 405.1,614.8 405.0,617.7 404.9,620.4 404.8,622.8 404.7,625.1 404.6,627.2 404.5,629.1 404.4,630.9 404.3,632.7 404.1,634.3 404.0,635.8 403.9,637.3 403.7,638.7 403.5,640.0 403.4,641.3 403.2,642.5 403.0,643.7 402.8,644.8 402.6,645.9 402.4,647.0 402.1,648.1 401.9,649.1 401.6,650.1 401.4,651.2 401.1,652.2 400.8,653.2 400.5,654.3 400.2,655.4 399.9,656.5 399.5,657.7 399.2,658.8 398.9,659.9 398.6,661.1 398.2,662.2 397.9,663.3 397.5,664.4 397.2,665.5 396.8,666.6 396.4,667.6 396.0,668.7 395.6,669.7 395.1,670.8 394.7,671.8 394.2,672.8 393.7,673.8 393.1,674.8 392.6,675.8 392.0,676.8 391.3,677.7 390.7,678.6 390.0,679.6 389.2,680.4 388.4,681.3 387.6,682.2 386.7,683.0 385.8,683.8 384.9,684.6 384.0,685.4 383.0,686.1 381.9,686.9 380.9,687.6 379.8,688.3 378.7,688.9 377.6,689.6 376.5,690.2 375.4,690.9 374.2,691.5 373.1,692.1 371.9,692.7 370.8,693.2 369.6,693.8 368.5,694.3 367.3,694.8 366.1,695.3 365.0,695.8 363.9,696.3 362.7,696.8 361.6,697.3 360.4,697.7 359.1,698.2 357.9,698.6 356.6,699.0 355.3,699.4 354.0,699.8 352.7,700.1 351.3,700.5 350.0,700.8 348.7,701.1 347.4,701.5 346.1,701.8 344.8,702.0 343.6,702.3 342.4,702.6 341.2,702.8 340.1,703.0 339.0,703.3 337.9,703.5 337.0,703.7 336.0,703.9 335.2,704.0 334.4,704.2 333.7,704.4 333.0,704.5 332.3,704.6 331.7,704.7 331.1,704.8 330.6,704.9 330.1,704.9 329.7,704.9 329.3,705.0 328.9,705.0 328.5,705.0 328.2,705.0 327.9,704.9 327.6,704.9 327.3,704.9 327.1,704.9 326.9,704.8 326.7,704.8 326.5,704.8 326.4,704.8 326.3,704.8 326.2,704.7 326.2,704.7 326.1,704.7"/>
<polyline fill="none" stroke="#e6c9a0" stroke-width="1.60" stroke-linejoin="round" points="403.6,555.0 403.6,556.6 403.7,558.5 403.7,560.7 403.7,563.1 403.7,565.7 403.7,568.5 403.7,571.5 403.8,574.6 403.8,577.8 403.8,581.2 403.8,584.6 403.8,588.1 403.9,591.6 403.9,595.1 403.9,598.5 403.9,602.0 403.9,605.3 403.8,608.6 403.8,611.8 403.8,614.8 403.7,617.7 403.6,620.3 403.5,622.8 403.4,625.0 403.3,627.1 403.2,629.0 403.1,630.8 403.0,632.6 402.9,634.2 402.7,635.7 402.6,637.2 402.4,638.6 402.3,639.9 402.1,641.1 401.9,642.3 401.7,643.5 401.5,644.6 401.3,645.7 401.1,646.7 400.9,647.8 400.6,648.8 400.4,649.8 400.1,650.8 399.8,651.9 399.6,652.9 399.3,654.0 398.9,655.1 398.6,656.2 398.3,657.3 398.0,658.5 397.6,659.6 397.3,660.7 397.0,661.8 396.6,662.9 396.3,664.0 395.9,665.1 395.6,666.1 395.2,667.2 394.8,668.2 394.4,669.2 393.9,670.3 393.5,671.3 393.0,672.3 392.5,673.2 392.0,674.2 391.4,675.1 390.9,676.1 390.2,677.0 389.6,677.9 388.9,678.7 388.2,679.6 387.5,680.4 386.7,681.3 385.9,682.1 385.0,682.8 384.1,683.6 383.2,684.4 382.2,685.1 381.2,685.8 380.2,686.5 379.1,687.2 378.1,687.8 377.0,688.5 375.9,689.1 374.8,689.7 373.6,690.3 372.5,690.9 371.4,691.5 370.2,692.0 369.1,692.6 367.9,693.1 366.8,693.6 365.6,694.1 364.5,694.6 363.4,695.1 362.2,695.6 361.1,696.1 359.9,696.5 358.7,696.9 357.5,697.4 356.2,697.8 354.9,698.1 353.6,698.5 352.3,698.9 351.0,699.2 349.7,699.6 348.4,699.9 347.1,700.2 345.8,700.5 344.5,700.8 343.3,701.0 342.1,701.3 340.9,701.5 339.8,701.8 338.7,702.0 337.7,702.2 336.7,702.4 335.8,702.6 334.9,702.8 334.1,702.9 333.4,703.1 332.7,703.2 332.1,703.3 331.5,703.4 331.0,703.5 330.5,703.6 330.0,703.6 329.6,703.6 329.2,703.7 328.9,703.7 328.5,703.7 328.2,703.7 327.9,703.6 327.7,703.6 327.5,703.6 327.2,703.6 327.1,703.5 326.9,703.5 326.7,703.5 326.6,703.5 326.4,703.5 326.3,703.4 326.2,703.4 326.0,703.4"/>
<polyline fill="none" stroke="#231f20" stroke-width="1.60" stroke-linejoin="round" points="402.4,555.0 402.3,556.6 402.4,558.5 402.4,560.7 402.4,563.1 402.4,565.7 402.4,568.5 402.4,571.5 402.5,574.6 402.5,577.8 402.5,581.2 402.5,584.6 402.6,588.1 402.6,591.6 402.6,595.1 402.6,598.5 402.6,602.0 402.6,605.3 402.5,608.6 402.5,611.8 402.5,614.8 402.4,617.6 402.3,620.3 402.2,622.7 402.2,625.0 402.0,627.0 401.9,628.9 401.8,630.7 401.7,632.5 401.6,634.1 401.4,635.6 401.3,637.0 401.1,638.4 401.0,639.7 400.8,640.9 400.6,642.1 400.4,643.3 400.2,644.4 400.0,645.4 399.8,646.5 399.6,647.5 399.4,648.5 399.1,649.5 398.9,650.5 398.6,651.5 398.3,652.6 398.0,653.6 397.7,654.7 397.4,655.8 397.0,657.0 396.7,658.1 396.4,659.2 396.1,660.3 395.7,661.4 395.4,662.5 395.0,663.6 394.7,664.6 394.3,665.7 394.0,666.7 393.6,667.7 393.2,668.8 392.7,669.7 392.3,670.7 391.8,671.7 391.4,672.6 390.9,673.6 390.3,674.5 389.8,675.4 389.2,676.2 388.6,677.1 387.9,677.9 387.2,678.8 386.5,679.6 385.8,680.3 385.0,681.1 384.1,681.9 383.3,682.6 382.4,683.3 381.4,684.0 380.5,684.7 379.5,685.4 378.4,686.1 377.4,686.7 376.3,687.4 375.2,688.0 374.1,688.6 373.0,689.2 371.9,689.8 370.8,690.3 369.7,690.9 368.5,691.4 367.4,691.9 366.2,692.5 365.1,693.0 364.0,693.5 362.9,693.9 361.8,694.4 360.6,694.9 359.5,695.3 358.3,695.7 357.1,696.1 355.8,696.5 354.6,696.9 353.3,697.3 352.0,697.6 350.7,698.0 349.4,698.3 348.1,698.6 346.8,698.9 345.5,699.2 344.3,699.5 343.0,699.8 341.8,700.0 340.7,700.3 339.5,700.5 338.4,700.7 337.4,700.9 336.4,701.1 335.5,701.3 334.7,701.5 333.9,701.7 333.1,701.8 332.5,701.9 331.9,702.1 331.3,702.1 330.8,702.2 330.3,702.3 329.9,702.3 329.5,702.3 329.2,702.4 328.8,702.4 328.5,702.4 328.3,702.4 328.0,702.3 327.8,702.3 327.6,702.3 327.4,702.3 327.2,702.3 327.1,702.2 326.9,702.2 326.7,702.2 326.5,702.2 326.4,702.1 326.2,702.1 326.0,702.2"/>
<polyline fill="none" stroke="#e8141c" stroke-width="1.60" stroke-linejoin="round" points="401.1,555.0 401.0,556.6 401.1,558.5 401.1,560.7 401.1,563.1 401.1,565.7 401.1,568.5 401.1,571.5 401.2,574.6 401.2,577.9 401.2,581.2 401.2,584.6 401.3,588.1 401.3,591.6 401.3,595.1 401.3,598.5 401.3,602.0 401.3,605.3 401.2,608.6 401.2,611.7 401.2,614.7 401.1,617.6 401.0,620.3 400.9,622.7 400.9,624.9 400.7,626.9 400.6,628.9 400.5,630.7 400.4,632.4 400.3,634.0 400.1,635.5 400.0,636.9 399.8,638.3 399.7,639.5 399.5,640.8 399.3,641.9 399.2,643.0 399.0,644.1 398.8,645.2 398.5,646.2 398.3,647.2 398.1,648.2 397.9,649.2 397.6,650.2 397.3,651.2 397.0,652.2 396.8,653.3 396.4,654.3 396.1,655.5 395.8,656.6 395.5,657.7 395.1,658.8 394.8,659.9 394.5,661.0 394.2,662.1 393.8,663.2 393.5,664.2 393.1,665.3 392.7,666.3 392.4,667.3 392.0,668.3 391.5,669.2 391.1,670.2 390.7,671.1 390.2,672.0 389.7,672.9 389.2,673.8 388.7,674.7 388.1,675.5 387.5,676.3 386.9,677.1 386.3,677.9 385.6,678.7 384.8,679.4 384.1,680.2 383.3,680.9 382.4,681.6 381.6,682.3 380.7,683.0 379.7,683.7 378.7,684.3 377.7,685.0 376.7,685.6 375.7,686.2 374.6,686.8 373.5,687.4 372.4,688.0 371.3,688.6 370.2,689.2 369.1,689.7 368.0,690.2 366.8,690.8 365.7,691.3 364.6,691.8 363.5,692.3 362.3,692.7 361.3,693.2 360.2,693.6 359.0,694.1 357.9,694.5 356.7,694.9 355.4,695.3 354.2,695.7 352.9,696.0 351.6,696.4 350.4,696.7 349.1,697.0 347.8,697.4 346.5,697.7 345.2,697.9 344.0,698.2 342.8,698.5 341.6,698.7 340.4,699.0 339.3,699.2 338.2,699.4 337.2,699.7 336.2,699.9 335.2,700.0 334.4,700.2 333.6,700.4 332.9,700.5 332.3,700.7 331.7,700.8 331.1,700.9 330.6,700.9 330.2,701.0 329.8,701.0 329.4,701.0 329.1,701.1 328.8,701.1 328.6,701.1 328.3,701.1 328.1,701.0 327.9,701.0 327.8,701.0 327.6,701.0 327.4,701.0 327.3,700.9 327.1,700.9 326.9,700.9 326.6,700.9 326.4,700.8 326.1,700.8 325.9,700.9"/>
<polyline fill="none" stroke="#a5458f" stroke-width="1.40" stroke-linejoin="round" points="448.1,552.0 448.1,556.8 448.7,561.1 449.4,565.5 450.1,569.9 450.8,574.1 451.6,578.3 452.4,582.4 453.2,586.4 454.1,590.3 455.0,594.1 455.9,597.8 456.9,601.5 457.9,605.0 458.9,608.5 460.0,611.9 461.1,615.2 462.2,618.5 463.3,621.6 464.5,624.7 465.7,627.7 466.9,630.6 468.1,633.5 469.4,636.3 470.6,639.0 471.9,641.6 473.2,644.2 474.6,646.7 475.9,649.1 477.3,651.5 478.6,653.8 480.0,656.0 481.4,658.2 482.8,660.3 484.3,662.3 485.7,664.3 487.2,666.2 488.6,668.1 490.1,669.9 491.6,671.6 493.0,673.3 494.5,674.9 496.0,676.5 497.5,678.0 499.0,679.5 500.5,680.9 502.0,682.2 503.5,683.5 505.0,684.8 506.5,686.0 508.0,687.2 509.5,688.3 511.0,689.4 512.5,690.4 514.0,691.4 515.5,692.3 516.9,693.2 518.4,694.1 519.9,694.9 521.3,695.7 522.8,696.5 524.2,697.2 525.6,697.8 527.0,698.5 528.4,699.1 529.8,699.7 531.2,700.2 532.5,700.7 533.9,701.2 535.3,701.5 536.6,701.7 538.0,701.9 539.3,702.1 540.6,702.2 541.8,702.3 543.1,702.4 544.3,702.5 545.4,702.6 546.6,702.6 547.7,702.6 548.8,702.6 549.3,702.5 556.2,702.5"/>
<polyline fill="none" stroke="#a5458f" stroke-width="1.40" stroke-linejoin="round" points="447.0,552.0 447.0,556.9 447.6,561.3 448.3,565.7 449.0,570.1 449.7,574.3 450.5,578.5 451.3,582.6 452.1,586.6 453.0,590.5 453.9,594.3 454.9,598.1 455.8,601.7 456.8,605.3 457.9,608.8 458.9,612.2 460.0,615.6 461.1,618.8 462.3,622.0 463.5,625.1 464.7,628.1 465.9,631.1 467.1,633.9 468.4,636.7 469.6,639.5 470.9,642.1 472.3,644.7 473.6,647.2 474.9,649.7 476.3,652.1 477.7,654.4 479.1,656.6 480.5,658.8 481.9,660.9 483.4,663.0 484.8,665.0 486.3,666.9 487.8,668.8 489.2,670.6 490.7,672.3 492.2,674.0 493.7,675.7 495.2,677.2 496.7,678.8 498.2,680.3 499.8,681.7 501.3,683.1 502.8,684.4 504.3,685.7 505.8,686.9 507.3,688.1 508.9,689.2 510.4,690.3 511.9,691.3 513.4,692.3 514.9,693.3 516.4,694.2 517.9,695.1 519.3,695.9 520.8,696.7 522.3,697.4 523.7,698.2 525.2,698.8 526.6,699.5 528.0,700.1 529.4,700.7 530.8,701.2 532.2,701.7 533.5,702.2 534.9,702.6 536.3,702.9 537.6,703.1 538.9,703.4 540.2,703.6 541.5,703.8 542.7,703.9 543.9,704.1 545.1,704.2 546.3,704.3 547.4,704.4 548.5,704.4 549.2,704.4 556.1,704.5"/>
<polyline fill="none" stroke="#231f20" stroke-width="1.40" stroke-linejoin="round" points="445.9,552.0 445.9,556.9 446.5,561.4 447.2,565.9 447.9,570.2 448.6,574.5 449.4,578.7 450.2,582.8 451.1,586.8 451.9,590.8 452.9,594.6 453.8,598.4 454.8,602.0 455.8,605.6 456.8,609.1 457.9,612.6 459.0,615.9 460.1,619.2 461.3,622.4 462.4,625.5 463.6,628.5 464.9,631.5 466.1,634.4 467.4,637.2 468.6,639.9 470.0,642.6 471.3,645.2 472.6,647.8 474.0,650.2 475.4,652.6 476.8,654.9 478.2,657.2 479.6,659.4 481.0,661.5 482.5,663.6 483.9,665.6 485.4,667.6 486.9,669.4 488.4,671.3 489.9,673.0 491.4,674.8 492.9,676.4 494.4,678.0 495.9,679.6 497.5,681.1 499.0,682.5 500.5,683.9 502.1,685.2 503.6,686.5 505.1,687.7 506.7,688.9 508.2,690.1 509.7,691.2 511.3,692.2 512.8,693.2 514.3,694.2 515.8,695.1 517.3,696.0 518.8,696.9 520.3,697.7 521.8,698.4 523.2,699.2 524.7,699.8 526.1,700.5 527.6,701.1 529.0,701.7 530.4,702.3 531.8,702.8 533.2,703.3 534.5,703.7 535.9,704.0 537.2,704.4 538.5,704.7 539.8,705.0 541.1,705.2 542.4,705.5 543.6,705.7 544.8,705.9 545.9,706.0 547.1,706.2 548.2,706.3 549.1,706.4 556.1,706.5"/>
<polyline fill="none" stroke="#1ba1e2" stroke-width="1.40" stroke-linejoin="round" points="444.8,552.0 444.8,557.0 445.4,561.6 446.1,566.0 446.8,570.4 447.5,574.7 448.3,578.9 449.1,583.0 450.0,587.1 450.9,591.0 451.8,594.9 452.7,598.6 453.7,602.3 454.7,605.9 455.8,609.5 456.8,612.9 457.9,616.3 459.1,619.6 460.2,622.8 461.4,625.9 462.6,628.9 463.8,631.9 465.1,634.8 466.4,637.7 467.7,640.4 469.0,643.1 470.3,645.7 471.7,648.3 473.0,650.8 474.4,653.2 475.8,655.5 477.2,657.8 478.7,660.0 480.1,662.2 481.6,664.2 483.1,666.3 484.5,668.2 486.0,670.1 487.5,672.0 489.1,673.8 490.6,675.5 492.1,677.2 493.6,678.8 495.2,680.3 496.7,681.8 498.3,683.3 499.8,684.7 501.4,686.1 502.9,687.4 504.5,688.6 506.0,689.8 507.6,691.0 509.1,692.1 510.6,693.1 512.2,694.2 513.7,695.1 515.2,696.1 516.8,697.0 518.3,697.8 519.8,698.6 521.3,699.4 522.8,700.1 524.2,700.8 525.7,701.5 527.1,702.1 528.6,702.7 530.0,703.3 531.4,703.8 532.8,704.3 534.2,704.8 535.5,705.2 536.9,705.6 538.2,706.0 539.5,706.3 540.7,706.7 542.0,707.0 543.2,707.2 544.4,707.5 545.6,707.7 546.8,707.9 547.9,708.1 549.0,708.3 556.0,708.5"/>
<polyline fill="none" stroke="#b0b0b0" stroke-width="1.40" stroke-linejoin="round" points="443.7,552.0 443.7,557.1 444.3,561.7 445.0,566.2 445.7,570.6 446.5,574.9 447.2,579.1 448.1,583.3 448.9,587.3 449.8,591.3 450.7,595.1 451.7,598.9 452.7,602.6 453.7,606.2 454.7,609.8 455.8,613.2 456.9,616.6 458.0,619.9 459.2,623.1 460.4,626.3 461.6,629.4 462.8,632.4 464.1,635.3 465.4,638.1 466.7,640.9 468.0,643.6 469.3,646.2 470.7,648.8 472.1,651.3 473.5,653.7 474.9,656.1 476.3,658.4 477.8,660.6 479.2,662.8 480.7,664.9 482.2,666.9 483.7,668.9 485.2,670.8 486.7,672.7 488.2,674.5 489.8,676.2 491.3,677.9 492.8,679.5 494.4,681.1 496.0,682.6 497.5,684.1 499.1,685.5 500.6,686.9 502.2,688.2 503.8,689.5 505.3,690.7 506.9,691.9 508.5,693.0 510.0,694.1 511.6,695.1 513.1,696.1 514.7,697.0 516.2,697.9 517.7,698.8 519.3,699.6 520.8,700.4 522.3,701.1 523.8,701.8 525.3,702.5 526.7,703.1 528.2,703.7 529.6,704.3 531.0,704.8 532.4,705.3 533.8,705.9 535.2,706.4 536.5,706.8 537.8,707.3 539.1,707.7 540.4,708.1 541.6,708.5 542.9,708.8 544.1,709.1 545.3,709.4 546.5,709.7 547.6,710.0 548.9,710.2 555.9,710.5"/>
<polyline fill="none" stroke="#1aa04a" stroke-width="1.40" stroke-linejoin="round" points="442.6,552.0 442.6,557.1 443.2,561.9 443.9,566.4 444.6,570.8 445.4,575.1 446.2,579.3 447.0,583.5 447.8,587.5 448.7,591.5 449.7,595.4 450.6,599.2 451.6,602.9 452.6,606.5 453.7,610.1 454.8,613.6 455.9,617.0 457.0,620.3 458.2,623.5 459.4,626.7 460.6,629.8 461.8,632.8 463.1,635.7 464.4,638.6 465.7,641.4 467.0,644.1 468.4,646.7 469.7,649.3 471.1,651.8 472.5,654.3 473.9,656.7 475.4,659.0 476.8,661.2 478.3,663.4 479.8,665.5 481.3,667.6 482.8,669.6 484.3,671.5 485.8,673.4 487.4,675.2 488.9,677.0 490.5,678.7 492.1,680.3 493.6,681.9 495.2,683.4 496.8,684.9 498.3,686.3 499.9,687.7 501.5,689.1 503.1,690.3 504.7,691.6 506.3,692.7 507.8,693.9 509.4,695.0 511.0,696.0 512.6,697.0 514.1,698.0 515.7,698.9 517.2,699.7 518.8,700.6 520.3,701.4 521.8,702.1 523.3,702.8 524.8,703.5 526.3,704.2 527.8,704.8 529.2,705.3 530.7,705.9 532.1,706.4 533.4,707.0 534.8,707.5 536.1,708.1 537.4,708.6 538.7,709.1 540.0,709.5 541.3,710.0 542.5,710.4 543.8,710.8 545.0,711.2 546.1,711.5 547.3,711.8 548.8,712.2 555.9,712.5"/>
<polyline fill="none" stroke="#e8141c" stroke-width="1.40" stroke-linejoin="round" points="441.5,552.0 441.5,557.2 442.2,562.0 442.8,566.5 443.5,571.0 444.3,575.3 445.1,579.5 445.9,583.7 446.8,587.8 447.7,591.8 448.6,595.7 449.5,599.5 450.5,603.2 451.6,606.8 452.6,610.4 453.7,613.9 454.8,617.3 456.0,620.6 457.1,623.9 458.3,627.1 459.5,630.2 460.8,633.2 462.1,636.2 463.4,639.0 464.7,641.8 466.0,644.6 467.4,647.3 468.8,649.8 470.2,652.4 471.6,654.8 473.0,657.2 474.5,659.6 475.9,661.8 477.4,664.0 478.9,666.2 480.4,668.2 481.9,670.2 483.5,672.2 485.0,674.1 486.6,675.9 488.1,677.7 489.7,679.4 491.3,681.1 492.8,682.7 494.4,684.2 496.0,685.7 497.6,687.2 499.2,688.6 500.8,689.9 502.4,691.2 504.0,692.4 505.6,693.6 507.2,694.8 508.8,695.9 510.4,696.9 512.0,697.9 513.5,698.9 515.1,699.8 516.7,700.7 518.2,701.6 519.8,702.4 521.3,703.1 522.8,703.8 524.4,704.5 525.9,705.2 527.3,705.8 528.8,706.4 530.3,706.9 531.7,707.4 533.1,708.1 534.4,708.7 535.8,709.3 537.1,709.9 538.4,710.5 539.7,711.0 540.9,711.5 542.2,712.0 543.4,712.4 544.6,712.9 545.8,713.3 547.0,713.7 548.7,714.1 555.8,714.5"/>
</g>
<g id="bconn"><rect x="391.1" y="524.1" width="31.1" height="11.4" rx="1" fill="#fff" stroke="#231f20" stroke-width="1.6"/><rect x="392.6" y="525.6" width="4.2" height="5" rx="0.8" fill="#fafafa" stroke="#6a6a6a" stroke-width="0.55"/><circle cx="394.7" cy="528.1" r="1.6" fill="#fff" stroke="#555" stroke-width="0.6"/><rect x="397.4" y="525.6" width="4.2" height="5" rx="0.8" fill="#fafafa" stroke="#6a6a6a" stroke-width="0.55"/><circle cx="399.5" cy="528.1" r="1.6" fill="#fff" stroke="#555" stroke-width="0.6"/><rect x="402.2" y="525.6" width="4.2" height="5" rx="0.8" fill="#fafafa" stroke="#6a6a6a" stroke-width="0.55"/><circle cx="404.3" cy="528.1" r="1.6" fill="#fff" stroke="#555" stroke-width="0.6"/><rect x="407.0" y="525.6" width="4.2" height="5" rx="0.8" fill="#fafafa" stroke="#6a6a6a" stroke-width="0.55"/><circle cx="409.0" cy="528.1" r="1.6" fill="#fff" stroke="#555" stroke-width="0.6"/><rect x="411.7" y="525.6" width="4.2" height="5" rx="0.8" fill="#fafafa" stroke="#6a6a6a" stroke-width="0.55"/><circle cx="413.8" cy="528.1" r="1.6" fill="#fff" stroke="#555" stroke-width="0.6"/><rect x="416.5" y="525.6" width="4.2" height="5" rx="0.8" fill="#fafafa" stroke="#6a6a6a" stroke-width="0.55"/><circle cx="418.6" cy="528.1" r="1.6" fill="#fff" stroke="#555" stroke-width="0.6"/><path d="M392.1,531.3 H421.2" stroke="#aaa" stroke-width="0.5"/><rect x="427.7" y="524.1" width="35.3" height="11.4" rx="1" fill="#fff" stroke="#231f20" stroke-width="1.6"/><rect x="429.2" y="525.6" width="4.1" height="5" rx="0.8" fill="#fafafa" stroke="#6a6a6a" stroke-width="0.55"/><circle cx="431.2" cy="528.1" r="1.6" fill="#fff" stroke="#555" stroke-width="0.6"/><rect x="433.9" y="525.6" width="4.1" height="5" rx="0.8" fill="#fafafa" stroke="#6a6a6a" stroke-width="0.55"/><circle cx="435.9" cy="528.1" r="1.6" fill="#fff" stroke="#555" stroke-width="0.6"/><rect x="438.6" y="525.6" width="4.1" height="5" rx="0.8" fill="#fafafa" stroke="#6a6a6a" stroke-width="0.55"/><circle cx="440.6" cy="528.1" r="1.6" fill="#fff" stroke="#555" stroke-width="0.6"/><rect x="443.3" y="525.6" width="4.1" height="5" rx="0.8" fill="#fafafa" stroke="#6a6a6a" stroke-width="0.55"/><circle cx="445.4" cy="528.1" r="1.6" fill="#fff" stroke="#555" stroke-width="0.6"/><rect x="448.0" y="525.6" width="4.1" height="5" rx="0.8" fill="#fafafa" stroke="#6a6a6a" stroke-width="0.55"/><circle cx="450.1" cy="528.1" r="1.6" fill="#fff" stroke="#555" stroke-width="0.6"/><rect x="452.7" y="525.6" width="4.1" height="5" rx="0.8" fill="#fafafa" stroke="#6a6a6a" stroke-width="0.55"/><circle cx="454.8" cy="528.1" r="1.6" fill="#fff" stroke="#555" stroke-width="0.6"/><rect x="457.4" y="525.6" width="4.1" height="5" rx="0.8" fill="#fafafa" stroke="#6a6a6a" stroke-width="0.55"/><circle cx="459.4" cy="528.1" r="1.6" fill="#fff" stroke="#555" stroke-width="0.6"/><path d="M428.7,531.3 H462.0" stroke="#aaa" stroke-width="0.5"/><rect x="391.1" y="545.4" width="21.3" height="11.4" rx="1" fill="#fff" stroke="#231f20" stroke-width="1.6"/><rect x="392.6" y="546.9" width="4.1" height="5" rx="0.8" fill="#fafafa" stroke="#6a6a6a" stroke-width="0.55"/><circle cx="394.7" cy="549.4" r="1.6" fill="#fff" stroke="#555" stroke-width="0.6"/><rect x="397.3" y="546.9" width="4.1" height="5" rx="0.8" fill="#fafafa" stroke="#6a6a6a" stroke-width="0.55"/><circle cx="399.4" cy="549.4" r="1.6" fill="#fff" stroke="#555" stroke-width="0.6"/><rect x="402.1" y="546.9" width="4.1" height="5" rx="0.8" fill="#fafafa" stroke="#6a6a6a" stroke-width="0.55"/><circle cx="404.1" cy="549.4" r="1.6" fill="#fff" stroke="#555" stroke-width="0.6"/><rect x="406.8" y="546.9" width="4.1" height="5" rx="0.8" fill="#fafafa" stroke="#6a6a6a" stroke-width="0.55"/><circle cx="408.8" cy="549.4" r="1.6" fill="#fff" stroke="#555" stroke-width="0.6"/><path d="M392.1,552.6 H411.4" stroke="#aaa" stroke-width="0.5"/><rect x="423.5" y="545.4" width="39.9" height="11.4" rx="1" fill="#fff" stroke="#231f20" stroke-width="1.6"/><rect x="425.0" y="546.9" width="4.1" height="5" rx="0.8" fill="#fafafa" stroke="#6a6a6a" stroke-width="0.55"/><circle cx="427.0" cy="549.4" r="1.6" fill="#fff" stroke="#555" stroke-width="0.6"/><rect x="429.7" y="546.9" width="4.1" height="5" rx="0.8" fill="#fafafa" stroke="#6a6a6a" stroke-width="0.55"/><circle cx="431.7" cy="549.4" r="1.6" fill="#fff" stroke="#555" stroke-width="0.6"/><rect x="434.4" y="546.9" width="4.1" height="5" rx="0.8" fill="#fafafa" stroke="#6a6a6a" stroke-width="0.55"/><circle cx="436.4" cy="549.4" r="1.6" fill="#fff" stroke="#555" stroke-width="0.6"/><rect x="439.1" y="546.9" width="4.1" height="5" rx="0.8" fill="#fafafa" stroke="#6a6a6a" stroke-width="0.55"/><circle cx="441.1" cy="549.4" r="1.6" fill="#fff" stroke="#555" stroke-width="0.6"/><rect x="443.8" y="546.9" width="4.1" height="5" rx="0.8" fill="#fafafa" stroke="#6a6a6a" stroke-width="0.55"/><circle cx="445.8" cy="549.4" r="1.6" fill="#fff" stroke="#555" stroke-width="0.6"/><rect x="448.4" y="546.9" width="4.1" height="5" rx="0.8" fill="#fafafa" stroke="#6a6a6a" stroke-width="0.55"/><circle cx="450.5" cy="549.4" r="1.6" fill="#fff" stroke="#555" stroke-width="0.6"/><rect x="453.1" y="546.9" width="4.1" height="5" rx="0.8" fill="#fafafa" stroke="#6a6a6a" stroke-width="0.55"/><circle cx="455.2" cy="549.4" r="1.6" fill="#fff" stroke="#555" stroke-width="0.6"/><rect x="457.8" y="546.9" width="4.1" height="5" rx="0.8" fill="#fafafa" stroke="#6a6a6a" stroke-width="0.55"/><circle cx="459.9" cy="549.4" r="1.6" fill="#fff" stroke="#555" stroke-width="0.6"/><path d="M424.5,552.6 H462.4" stroke="#aaa" stroke-width="0.5"/></g>
<!-- ===== LEFT WIRES ===== -->
<g id="leftwires" fill="none" stroke-width="1.5">
<path d="M236.5,229 V323.3 H290" stroke="#b08a5a"/>
<path d="M160.3,256.5 V337.8 H290" stroke="#f08a1c"/>
<path d="M211,352.6 H290" stroke="#a5458f"/>
<path d="M211,352.6 V396" stroke="#a5458f" stroke-dasharray="1.6 1.6"/>
<path d="M58.9,316 V367.2 H290" stroke="#ffe500"/>
<path d="M60,439 V382 H290" stroke="#1c1a1b"/>
<path d="M75.5,440 V396.7 H290" stroke="#e8141c"/>
<g stroke="#231f20" stroke-width="2" stroke-dasharray="1.6 1.6">
<path d="M69.8,317 V382"/><path d="M147.4,256.5 V382"/><path d="M226.6,229 V382"/>
</g>
</g>
<g fill="#231f20"><circle cx="69.8" cy="382" r="2.7"/><circle cx="147.4" cy="382" r="2.7"/><circle cx="226.6" cy="382" r="2.7"/></g>
<circle cx="211" cy="396.7" r="2.9" fill="#e8141c"/>

<!-- left connector -->
<g stroke="#231f20" stroke-width="1.3" fill="#fff">
<rect x="289.6" y="321.8" width="16.2" height="77"/>
<rect x="305.8" y="318.4" width="9.6" height="83.9"/>
</g>
<g stroke="#6d6e71" stroke-width="0.8" fill="#fff">
<rect x="293.5" y="324.5" width="12" height="10.5"/><rect x="293.5" y="337.3" width="12" height="10.5"/><rect x="293.5" y="350.1" width="12" height="10.5"/>
<rect x="293.5" y="362.9" width="12" height="10.5"/><rect x="293.5" y="375.7" width="12" height="10.5"/><rect x="293.5" y="388.5" width="12" height="10.5"/>
</g>
<g class="lb" stroke="#231f20" stroke-width="0.15">
<text x="244.3" y="321.6" font-size="8.4" lengthAdjust="spacingAndGlyphs" textLength="21.8">OPEN</text>
<text x="244.3" y="336.5" font-size="8.4" lengthAdjust="spacingAndGlyphs" textLength="34.2">Look NO</text>
<text x="244.3" y="351.3" font-size="8.4" lengthAdjust="spacingAndGlyphs" textLength="40.9">Look COM</text>
<text x="244.3" y="365.8" font-size="8.4" lengthAdjust="spacingAndGlyphs" textLength="33">Look NC</text>
<text x="244.3" y="380.3" font-size="8.4" lengthAdjust="spacingAndGlyphs" textLength="18.7">GND</text>
<text x="244.3" y="394.9" font-size="8.4" lengthAdjust="spacingAndGlyphs" textLength="14.8">12V</text>
</g>

<!-- ===== RIGHT WIRES ===== -->
<g id="rightwires" fill="none" stroke-width="1.5">
<path d="M587.4,311 H650 V237.2 L657.5,210" stroke="#1aa04a"/>
<path d="M587.4,325.8 H666.1 V232.8 L658.9,212.5" stroke="#d9d9d9"/>
<path d="M587.4,340.5 H702.7 V300.4" stroke="#1c1a1b"/>
<path d="M587.4,355.6 H717.8 V299" stroke="#f08a1c"/>
<path d="M587.4,370 H761.9 V350.7" stroke="#b08a5a"/>
<path d="M772.5,351 V384.6" stroke="#1c1a1b"/>
<path d="M587.4,384.6 H848" stroke="#1c1a1b"/>
<path d="M587.4,399.6 H848" stroke="#e8141c"/>
<g stroke-width="2" stroke-dasharray="1.6 1.6">
<path d="M800.4,182.2 V384.6" stroke="#1c1a1b"/>
<path d="M714,182.2 H817" stroke="#1c1a1b"/>
<path d="M714,168.4 H817" stroke="#e8141c"/>
</g>
<path d="M659,210 C676,222 697,223 710,217 C721,211 724,200 724,168.4" stroke="#e8141c" stroke-width="1.6"/>
<path d="M660,211 C678,226 705,233 724,227 C735,222 737,208 737,182.2" stroke="#231f20" stroke-width="1.6"/>
</g>
<g fill="#231f20"><circle cx="772.5" cy="384.6" r="2.7"/><circle cx="800.4" cy="384.6" r="2.7"/><circle cx="737" cy="182.2" r="2.7"/></g>
<circle cx="724" cy="168.4" r="3" fill="#e8141c"/>

<!-- right connector -->
<g stroke="#231f20" stroke-width="1.3" fill="#fff">
<rect x="570.3" y="309.4" width="17.1" height="91.3"/>
<rect x="561.5" y="305.5" width="8.8" height="99.3"/>
</g>
<g stroke="#6d6e71" stroke-width="0.8" fill="#fff">
<rect x="571.5" y="312.5" width="12" height="10"/><rect x="571.5" y="324.8" width="12" height="10"/><rect x="571.5" y="337.1" width="12" height="10"/>
<rect x="571.5" y="349.4" width="12" height="10"/><rect x="571.5" y="361.7" width="12" height="10"/><rect x="571.5" y="374" width="12" height="10"/><rect x="571.5" y="386.3" width="12" height="10"/>
</g>
<g class="lb" stroke="#231f20" stroke-width="0.15">
<text x="593.7" y="309.4" font-size="9.0" lengthAdjust="spacingAndGlyphs" textLength="37.3">WG-IN0</text>
<text x="593.7" y="324.2" font-size="9.0" lengthAdjust="spacingAndGlyphs" textLength="36.2">WG-IN1</text>
<text x="593.7" y="339.5" font-size="9.0" lengthAdjust="spacingAndGlyphs" textLength="21.3">GND</text>
<text x="593.7" y="353.8" font-size="9.0" lengthAdjust="spacingAndGlyphs" textLength="19">FIER</text>
<text x="593.7" y="368.2" font-size="9.0" lengthAdjust="spacingAndGlyphs" textLength="27.5">DOOR</text>
<text x="593.7" y="383" font-size="9.0" lengthAdjust="spacingAndGlyphs" textLength="21.3">GND</text>
<text x="593.7" y="397.8" font-size="9.0" lengthAdjust="spacingAndGlyphs" textLength="39.7">ALARM+</text>
</g>

<!-- ===== BOTTOM WIRES ===== -->
<g id="bottomwires" fill="none" stroke-width="1.5">
<path d="M573.7,669.5 H666.3" stroke="#a5458f"/>
<path d="M573.7,684.5 H666.3" stroke="#a5458f"/>
<path d="M573.7,699.2 H666.6" stroke="#1c1a1b"/>
<path d="M666.6,699.2 V772.9 H690" stroke="#231f20" stroke-width="2" stroke-dasharray="1.6 1.6"/>
<path d="M573.7,713.7 H789.4 V674.7" stroke="#1ba1e2"/>
<path d="M573.7,728.3 H775.8 V674.7" stroke="#6d6e71"/>
<path d="M573.7,743 H690" stroke="#c8c8c8"/>
<path d="M573.7,758 H690" stroke="#1aa04a"/>
<path d="M573.7,772.8 H656 V784.2 H690" stroke="#e8141c"/>
</g>
<!-- bottom connector -->
<g stroke="#231f20" stroke-width="1.3" fill="#fff">
<rect x="557.2" y="668" width="16.5" height="107"/>
<rect x="547.5" y="664.2" width="9.7" height="115.5"/>
</g>
<g stroke="#6d6e71" stroke-width="0.8" fill="#fff">
<rect x="558.5" y="671.5" width="12" height="9.5"/><rect x="558.5" y="683.8" width="12" height="9.5"/><rect x="558.5" y="696.1" width="12" height="9.5"/><rect x="558.5" y="708.4" width="12" height="9.5"/>
<rect x="558.5" y="720.7" width="12" height="9.5"/><rect x="558.5" y="733" width="12" height="9.5"/><rect x="558.5" y="745.3" width="12" height="9.5"/><rect x="558.5" y="757.6" width="12" height="9.5"/>
</g>
<g class="lb" stroke="#231f20" stroke-width="0.15">
<text x="580" y="667.5" font-size="9.1" lengthAdjust="spacingAndGlyphs" textLength="25">BELL-</text>
<text x="580" y="682.2" font-size="9.1" lengthAdjust="spacingAndGlyphs" textLength="27">BELL+</text>
<text x="580" y="697" font-size="9.1" lengthAdjust="spacingAndGlyphs" textLength="22">GND</text>
<text x="580" y="711.7" font-size="9.1" lengthAdjust="spacingAndGlyphs" textLength="34.7">RS485B</text>
<text x="580" y="726.3" font-size="9.1" lengthAdjust="spacingAndGlyphs" textLength="35.3">RS485A</text>
<text x="580" y="741" font-size="9.1" lengthAdjust="spacingAndGlyphs" textLength="46.7">WG-OUT1</text>
<text x="580" y="756" font-size="9.1" lengthAdjust="spacingAndGlyphs" textLength="47.5">WG-OUT0</text>
<text x="580" y="770.8" font-size="9.1" lengthAdjust="spacingAndGlyphs" textLength="17.2">12V</text>
</g>

<!-- TCP line -->
<path d="M202.4,706.2 H295.4" stroke="#6d6e71" stroke-width="1.3" fill="none"/>
<text x="235.5" y="703" class="lb" font-size="9.0" lengthAdjust="spacingAndGlyphs" textLength="30.5">TCP/IP</text>


<defs>
<linearGradient id="gSil" x1="0" y1="0" x2="0" y2="1"><stop offset="0" stop-color="#d4d7db"/><stop offset="0.55" stop-color="#b3b7bc"/><stop offset="1" stop-color="#8e9298"/></linearGradient>
<linearGradient id="gSil2" x1="0" y1="0" x2="0" y2="1"><stop offset="0" stop-color="#c8ccd0"/><stop offset="1" stop-color="#a2a6ab"/></linearGradient>
<linearGradient id="gBtn" x1="0" y1="0" x2="0" y2="1"><stop offset="0" stop-color="#e6e8eb"/><stop offset="1" stop-color="#d3d6da"/></linearGradient>
<linearGradient id="gPsu" x1="0" y1="0" x2="1" y2="1"><stop offset="0" stop-color="#141a22"/><stop offset="0.6" stop-color="#10151b"/><stop offset="1" stop-color="#1d232b"/></linearGradient>
<linearGradient id="gBase" x1="0" y1="0" x2="0" y2="1"><stop offset="0" stop-color="#f0f2f2"/><stop offset="0.5" stop-color="#f8f8f8"/><stop offset="1" stop-color="#dedede"/></linearGradient>
<linearGradient id="gMon" x1="0" y1="0" x2="0.3" y2="1"><stop offset="0" stop-color="#8a8a8a"/><stop offset="0.38" stop-color="#2a2a2a"/><stop offset="0.4" stop-color="#050505"/><stop offset="1" stop-color="#000"/></linearGradient>
<linearGradient id="gFp" x1="0" y1="0" x2="1" y2="0"><stop offset="0" stop-color="#6d7076"/><stop offset="0.12" stop-color="#c9ccd0"/><stop offset="0.25" stop-color="#3a3d42"/><stop offset="0.75" stop-color="#3a3d42"/><stop offset="0.9" stop-color="#c9ccd0"/><stop offset="1" stop-color="#6d7076"/></linearGradient>
<linearGradient id="gFpB" x1="0" y1="0" x2="0" y2="1"><stop offset="0" stop-color="#b5b8bc"/><stop offset="1" stop-color="#7d8085"/></linearGradient>
<linearGradient id="gRefl" x1="0" y1="0" x2="0.15" y2="1"><stop offset="0" stop-color="#444"/><stop offset="0.6" stop-color="#6a6a6a"/><stop offset="1" stop-color="#8a8a8a"/></linearGradient>
<linearGradient id="gRim" x1="0" y1="0" x2="1" y2="0"><stop offset="0" stop-color="#7d8086"/><stop offset="0.5" stop-color="#d9dbde"/><stop offset="1" stop-color="#8a8d92"/></linearGradient>
</defs>

<!-- Electromagnetic lock -->
<g id="emlock">
<polygon points="3.3,259.2 90.8,244.7 92.5,265.8 6.7,280.8" fill="url(#gSil)" stroke="#8a8e93" stroke-width="0.6"/>
<polygon points="3.3,259.2 90.8,244.7 91.1,247.3 3.7,261.8" fill="#e2e5e8"/>
<polygon points="30.7,259.3 86.7,249.3 87.5,262 32.5,272.7" fill="#111214"/>
<polygon points="35,260.6 86.5,251.4 86.6,253.9 35.1,263.1" fill="#c9cdd1"/>
<polygon points="35.3,265 86.8,255.8 87,258.5 35.5,267.7" fill="#b5b9be"/>
<polygon points="35.6,269.4 87,260.2 87.2,261.9 35.8,271.3" fill="#a3a7ac"/>
<polygon points="86.8,248 90.8,247.3 92.3,265.5 87.7,266.3" fill="#d0d3d6"/>
<circle cx="19" cy="258.9" r="1.8" fill="#222"/>
<polygon points="36,255.5 49.3,253 49.3,256 36,258.5" fill="#6f8ccc"/>
<polygon points="41.7,283.3 106.7,266.7 110,275.8 45,295.8" fill="url(#gSil2)" stroke="#8a8e93" stroke-width="0.6"/>
<polygon points="41.7,283.3 106.7,266.7 108,270 43,287" fill="#d6d9dc"/>
<circle cx="78.5" cy="278.5" r="1.2" fill="#333"/>
</g>
<text x="18.7" y="311.9" class="cap" font-size="9.6" textLength="94.6" lengthAdjust="spacing">Electromagnetic Lock</text>

<!-- Electric strike -->
<g id="strike">
<polygon points="150,213 180,202.5 180,219.4 133.3,236.6 129,229.5" fill="#9d9b98"/>
<polygon points="129,229.5 165,221 180,219.4 133.3,236.6" fill="#878583"/>
<polygon points="103.3,223.9 187.8,192.2 196.1,199.4 108.3,233.3" fill="#8f8d8a"/>
<polygon points="103.3,223.9 187.8,192.2 189.5,194 104.3,226" fill="#a9a7a4"/>
<circle cx="110.6" cy="227.4" r="1.4" fill="#fff"/><circle cx="188.9" cy="196.7" r="1.4" fill="#fff"/>
<polygon points="134.5,215.5 161,207.5 166,222 138,231" fill="#2a2a2a"/>
<polygon points="136.7,217.6 162.2,210.2 165.5,220.8 139.4,229.6" fill="url(#gSil)"/>
<polygon points="136.7,217.6 162.2,210.2 162.8,212.2 137.2,219.6" fill="#e2e4e6"/>
</g>
<text x="111" y="251.2" class="cap" font-size="9.6" textLength="94" lengthAdjust="spacing">Electric Strike Lock</text>

<!-- Exit button -->
<g id="exitbtn">
<rect x="204.2" y="154" width="57.8" height="57.8" rx="2.5" fill="url(#gBtn)" stroke="#d0d2d6" stroke-width="0.6"/>
<rect x="210.5" y="165.5" width="46" height="35" rx="2" fill="#e9ebee" stroke="#c9bd9c" stroke-width="1"/>
<circle cx="226" cy="180.5" r="4.6" fill="none" stroke="#9a9ca0" stroke-width="1.8"/>
<path d="M230.6,180.5 H246.5 M243,180.5 V183 M245,180.5 V183" stroke="#9a9ca0" stroke-width="1.6" fill="none"/>
<rect x="231.5" y="168.5" width="3" height="1" fill="#b5b08a"/>
<rect x="245" y="193.5" width="8" height="2" fill="#555"/>
</g>
<text x="207.5" y="224.1" class="cap" font-size="9.6" textLength="51.5" lengthAdjust="spacing">Exit Button</text>

<!-- Card reader -->
<g id="cardreader">
<rect x="621.6" y="108.6" width="59" height="91.8" rx="3" fill="#dcdce2" stroke="#c6c6ce" stroke-width="0.7"/>
<rect x="626.6" y="122" width="48.4" height="63" rx="2" fill="#d9d9df" stroke="#bdbdc6" stroke-width="0.8"/>
<circle cx="634" cy="128" r="2.6" fill="#e8141c"/>
<rect x="659" y="125" width="10.6" height="7" rx="1.5" fill="none" stroke="#bbbbc3" stroke-width="0.8"/>
<polygon points="649.2,200.8 658.9,200.8 662.5,209.5 661.5,213 657.5,214.5 654,212" fill="#1d1a1a"/>
<path d="M653.3,206.8 Q657,204.5 660.6,204.8" stroke="#8a8080" stroke-width="0.6" fill="none"/>
</g>
<text x="595" y="213.2" class="cap" font-size="9.6" textLength="52" lengthAdjust="spacing">Card Reader</text>

<!-- PSU left -->
<g><rect x="31.0" y="446.0" width="71.3" height="89.7" fill="url(#gPsu)"/><g fill="#f2f2f2" opacity="0.9"><rect x="44.7" y="474.4" width="5.1" height="0.9"/><rect x="45.7" y="473.4" width="0.9" height="7.2"/><rect x="48.3" y="473.9" width="0.9" height="6.7"/><rect x="45.7" y="477.4" width="3.1" height="0.8"/></g><g fill="#f2f2f2" opacity="0.9"><rect x="51.0" y="474.4" width="5.1" height="0.9"/><rect x="52.0" y="473.4" width="0.9" height="7.2"/><rect x="54.7" y="473.9" width="0.9" height="6.7"/><rect x="52.0" y="477.4" width="3.1" height="0.8"/></g><g fill="#f2f2f2" opacity="0.9"><rect x="57.4" y="474.4" width="5.1" height="0.9"/><rect x="58.4" y="473.4" width="0.9" height="7.2"/><rect x="61.0" y="473.9" width="0.9" height="6.7"/><rect x="58.4" y="477.4" width="3.1" height="0.8"/></g><g fill="#f2f2f2" opacity="0.9"><rect x="63.7" y="474.4" width="5.1" height="0.9"/><rect x="64.7" y="473.4" width="0.9" height="7.2"/><rect x="67.3" y="473.9" width="0.9" height="6.7"/><rect x="64.7" y="477.4" width="3.1" height="0.8"/></g><g fill="#f2f2f2" opacity="0.9"><rect x="70.0" y="474.4" width="5.1" height="0.9"/><rect x="71.0" y="473.4" width="0.9" height="7.2"/><rect x="73.6" y="473.9" width="0.9" height="6.7"/><rect x="71.0" y="477.4" width="3.1" height="0.8"/></g><g fill="#f2f2f2" opacity="0.9"><rect x="76.3" y="474.4" width="5.1" height="0.9"/><rect x="77.3" y="473.4" width="0.9" height="7.2"/><rect x="80.0" y="473.9" width="0.9" height="6.7"/><rect x="77.3" y="477.4" width="3.1" height="0.8"/></g><g fill="#f2f2f2" opacity="0.9"><rect x="82.7" y="474.4" width="5.1" height="0.9"/><rect x="83.7" y="473.4" width="0.9" height="7.2"/><rect x="86.3" y="473.9" width="0.9" height="6.7"/><rect x="83.7" y="477.4" width="3.1" height="0.8"/></g><text x="38.0" y="488.2" font-family="Liberation Sans" font-size="4.6" fill="#e6e6e6" textLength="57.0" lengthAdjust="spacingAndGlyphs">Uninterrupted Power Supply</text><text x="37.0" y="494.5" font-family="Liberation Sans" font-size="2.6" fill="#d0d0d0" textLength="25.0" lengthAdjust="spacingAndGlyphs">Input: AC 220V 50Hz</text><text x="37.0" y="498.8" font-family="Liberation Sans" font-size="2.6" fill="#d0d0d0" textLength="23.0" lengthAdjust="spacingAndGlyphs">Output: DC 12V 3A</text><text x="37.0" y="503.1" font-family="Liberation Sans" font-size="2.6" fill="#d0d0d0" textLength="25.0" lengthAdjust="spacingAndGlyphs">Model: FC-A105EM-P</text><text x="36.0" y="520.0" font-family="Liberation Sans" font-weight="bold" font-size="2.8" fill="#e0e0e0" textLength="33.6" lengthAdjust="spacingAndGlyphs">The following two conditions:</text><text x="36.0" y="523.6" font-family="Liberation Sans" font-size="2.6" fill="#d8d8d8" textLength="51.5" lengthAdjust="spacingAndGlyphs">1. This device may not cause harmful interference</text><text x="36.0" y="527.2" font-family="Liberation Sans" font-size="2.6" fill="#d8d8d8" textLength="51.5" lengthAdjust="spacingAndGlyphs">2. This device may not cause harmful interference</text></g>
<text x="28.4" y="547.9" class="cap" font-size="9.6" textLength="75.4" lengthAdjust="spacing">Power Supply Box</text>

<!-- PSU right -->
<g><rect x="822.7" y="134.6" width="75.5" height="94.2" fill="url(#gPsu)"/><g fill="#f2f2f2" opacity="0.9"><rect x="837.2" y="164.4" width="5.5" height="0.9"/><rect x="838.2" y="163.4" width="0.9" height="7.6"/><rect x="841.2" y="163.9" width="0.9" height="7.1"/><rect x="838.2" y="167.5" width="3.5" height="0.8"/></g><g fill="#f2f2f2" opacity="0.9"><rect x="843.9" y="164.4" width="5.5" height="0.9"/><rect x="844.9" y="163.4" width="0.9" height="7.6"/><rect x="847.9" y="163.9" width="0.9" height="7.1"/><rect x="844.9" y="167.5" width="3.5" height="0.8"/></g><g fill="#f2f2f2" opacity="0.9"><rect x="850.6" y="164.4" width="5.5" height="0.9"/><rect x="851.6" y="163.4" width="0.9" height="7.6"/><rect x="854.6" y="163.9" width="0.9" height="7.1"/><rect x="851.6" y="167.5" width="3.5" height="0.8"/></g><g fill="#f2f2f2" opacity="0.9"><rect x="857.3" y="164.4" width="5.5" height="0.9"/><rect x="858.3" y="163.4" width="0.9" height="7.6"/><rect x="861.3" y="163.9" width="0.9" height="7.1"/><rect x="858.3" y="167.5" width="3.5" height="0.8"/></g><g fill="#f2f2f2" opacity="0.9"><rect x="864.0" y="164.4" width="5.5" height="0.9"/><rect x="865.0" y="163.4" width="0.9" height="7.6"/><rect x="868.0" y="163.9" width="0.9" height="7.1"/><rect x="865.0" y="167.5" width="3.5" height="0.8"/></g><g fill="#f2f2f2" opacity="0.9"><rect x="870.7" y="164.4" width="5.5" height="0.9"/><rect x="871.7" y="163.4" width="0.9" height="7.6"/><rect x="874.7" y="163.9" width="0.9" height="7.1"/><rect x="871.7" y="167.5" width="3.5" height="0.8"/></g><g fill="#f2f2f2" opacity="0.9"><rect x="877.4" y="164.4" width="5.5" height="0.9"/><rect x="878.4" y="163.4" width="0.9" height="7.6"/><rect x="881.4" y="163.9" width="0.9" height="7.1"/><rect x="878.4" y="167.5" width="3.5" height="0.8"/></g><text x="830.1" y="178.9" font-family="Liberation Sans" font-size="4.8" fill="#e6e6e6" textLength="60.4" lengthAdjust="spacingAndGlyphs">Uninterrupted Power Supply</text><text x="829.1" y="185.5" font-family="Liberation Sans" font-size="2.7" fill="#d0d0d0" textLength="26.5" lengthAdjust="spacingAndGlyphs">Input: AC 220V 50Hz</text><text x="829.1" y="190.0" font-family="Liberation Sans" font-size="2.7" fill="#d0d0d0" textLength="24.4" lengthAdjust="spacingAndGlyphs">Output: DC 12V 3A</text><text x="829.1" y="194.6" font-family="Liberation Sans" font-size="2.7" fill="#d0d0d0" textLength="26.5" lengthAdjust="spacingAndGlyphs">Model: FC-A105EM-P</text><text x="828.0" y="212.3" font-family="Liberation Sans" font-weight="bold" font-size="2.9" fill="#e0e0e0" textLength="35.6" lengthAdjust="spacingAndGlyphs">The following two conditions:</text><text x="828.0" y="216.1" font-family="Liberation Sans" font-size="2.7" fill="#d8d8d8" textLength="54.5" lengthAdjust="spacingAndGlyphs">1. This device may not cause harmful interference</text><text x="828.0" y="219.9" font-family="Liberation Sans" font-size="2.7" fill="#d8d8d8" textLength="54.5" lengthAdjust="spacingAndGlyphs">2. This device may not cause harmful interference</text></g>
<text x="822.7" y="242.9" class="cap" font-size="9.6" textLength="75.5" lengthAdjust="spacing">Power Supply Box</text>

<!-- Fire alarm -->
<g id="fire">
<polygon points="690.7,259.3 708,245.3 730.7,254.3 729.7,268 714.7,283.3 692.7,271.3" fill="#d91c24"/>
<polygon points="690.7,259.3 708,245.3 730.7,254.3 714.3,268" fill="#e3252c"/>
<polygon points="714.3,268 730.7,254.3 729.7,268 714.7,283.3" fill="#c9161d"/>
<polygon points="698.3,257.7 703.7,253 722,259.3 717,265.7" fill="#16262a"/>
<path d="M702,257.5 L718,262 M703,259.5 L716,263.5" stroke="#8fb0b5" stroke-width="0.8"/>
<circle cx="703.5" cy="263" r="0.8" fill="#9cd"/>
</g>
<text x="674.6" y="296.0" class="cap" font-size="9.6" textLength="75.2" lengthAdjust="spacing">Fire Alarm Input</text>

<!-- Door sensor -->
<g id="door">
<rect x="747" y="309" width="17" height="22.3" fill="#ebebeb"/>
<rect x="764" y="307.3" width="2.2" height="25.4" fill="#e4e4e4"/>
<rect x="771.3" y="309" width="17.4" height="22.3" fill="#ebebeb"/>
<rect x="769.2" y="307.3" width="2.2" height="25.4" fill="#e4e4e4"/>
<path d="M753.3,312.5 V327.5 M754.5,312.5 V327.5 M755.8,312.5 V327.5 M757.0,312.5 V327.5 M758.3,312.5 V327.5 M759.5,312.5 V327.5 M760.8,312.5 V327.5 M762.0,312.5 V327.5 M773.0,312.5 V327.5 M774.3,312.5 V327.5 M775.6,312.5 V327.5 M776.9,312.5 V327.5 M778.2,312.5 V327.5 M779.5,312.5 V327.5 M780.8,312.5 V327.5 M782.1,312.5 V327.5 " stroke="#d2d2d2" stroke-width="0.45" fill="none"/>
</g>
<text x="741" y="344.4" class="cap" font-size="9.6" textLength="52" lengthAdjust="spacing">Door Sensor</text>

<!-- Alarm output -->
<g id="alarm">
<path d="M856.7,399.5 V372.5 Q856.7,367.1 862,367.1 H880 Q885.2,367.1 885.2,372.5 V399.5 Z" fill="#e2001a"/>
<rect x="854.2" y="399.3" width="33.6" height="8.4" fill="url(#gBase)"/>
<rect x="852.6" y="407.4" width="36.2" height="1.2" fill="#9c9c9c"/>
</g>
<text x="844" y="422.4" class="cap" font-size="9.6" textLength="56" lengthAdjust="spacing">Alarm Output</text>

<!-- Fingerprint -->
<g id="finger">
<path d="M760,565.4 H806.8 Q811.6,565.4 811.6,570.5 V651 Q811.6,656 806.5,656 H760 Q755,656 755,651 V570.5 Q755,565.4 760,565.4 Z" fill="#25272b"/>
<path d="M758.5,566.2 H808 Q810,566.2 810,569 V577 Q783,573.5 756.8,577 V569 Q756.8,566.2 758.5,566.2 Z" fill="#3c3f45"/>
<path d="M755.2,571 Q756,566 760,565.6 L758,568 Q762.5,590 762.5,634 H755.2 Z" fill="url(#gRim)"/>
<path d="M811.4,571 Q810.6,566 806.6,565.6 L808.6,568 Q804.5,590 804.5,634 H811.4 Z" fill="url(#gRim)"/>
<rect x="765.8" y="584.3" width="34.2" height="45.2" rx="2.5" fill="#060606" stroke="#26282c" stroke-width="1"/>
<rect x="773.7" y="607" width="18.3" height="15.8" rx="0.8" fill="#7ad33b"/>
<path d="M770,577.4 Q783,580.6 796,577.4" stroke="#6fd12c" stroke-width="1.5" fill="none"/>
<rect x="755.6" y="632.5" width="55.6" height="21.5" rx="2" fill="url(#gFpB)"/>
<path d="M756,652.5 Q783,655 810.8,652.5 L810,655.5 Q783,657.5 757,655.5 Z" fill="#1a1a1a"/>
</g>
<text x="741" y="668.6" class="cap" font-size="9.6" textLength="85" lengthAdjust="spacing">Fingerprint Reader</text>
<path d="M765.2,677.8 H772 M768.6,674.2 V681.4" stroke="#e8141c" stroke-width="1.1" fill="none"/>
<rect x="793.2" y="676.7" width="7.8" height="1" fill="#777"/>

<!-- Doorbell -->
<g id="doorbell">
<path d="M673.5,683 Q672.5,695 685,696.5 L720,683 Q727,680 726.5,672 L726,668 Z" fill="#d5d6da"/>
<path d="M674,684 Q670,674 681,668 L697.5,659.5 Q712,661 716,667 L726,668 Q727,676 720,680 L686,693 Q676,694 674,684 Z" fill="#eaebee"/>
<path d="M697.5,658.7 L707.8,652.3 L725,660 L726.3,669.3 L717,674.3 Q714,665 697.5,658.7 Z" fill="#2b5fb3"/>
<path d="M697.5,658.7 L707.8,652.3 L725,660 L716.5,664.5 Q710,660.5 697.5,658.7 Z" fill="#3f74c8"/>
<ellipse cx="683.5" cy="680.5" rx="2.3" ry="1.2" transform="rotate(-20 683.5 680.5)" fill="#1f3f9a"/>
<rect x="706.5" y="669" width="4" height="1.2" transform="rotate(-25 708.5 669.6)" fill="#4a6fbf"/>
</g>
<text x="710" y="698.0" class="cap" font-size="9.6" textLength="37" lengthAdjust="spacing">Doorbell</text>

<!-- Computer -->
<g id="computer">
<polygon points="139.8,656 157,653.2 157,740.8 139.8,734" fill="#222"/>
<rect x="156.5" y="653.2" width="45.5" height="87.6" fill="#0a0a0a"/>
<rect x="156.5" y="653.2" width="45.5" height="2" fill="#3a3a3a"/>
<rect x="164" y="658.5" width="35" height="10.5" fill="#181818" stroke="#555" stroke-width="0.6"/>
<rect x="166" y="661" width="31" height="1" fill="#666"/>
<rect x="164" y="671" width="35" height="8" fill="#111" stroke="#333" stroke-width="0.5"/>
<rect x="164" y="680.7" width="24.3" height="12.6" fill="#151515" stroke="#444" stroke-width="0.5"/>
<rect x="194" y="683" width="3" height="2.2" fill="#3c9"/><rect x="194" y="689" width="3" height="2.2" fill="#c33"/>
<rect x="168.3" y="699.7" width="33.1" height="29.5" fill="url(#gSil)" stroke="#888" stroke-width="0.5"/>
<rect x="172" y="707" width="27" height="1.5" fill="#555"/>
<polygon points="50,641.6 154.5,640.6 152.4,717.6 42.7,713.4" fill="#141414"/><path d="M153.8,641 L151.7,717.3 L43,713.5" fill="none" stroke="#b8b8b8" stroke-width="1.3"/>
<polygon points="51.3,643.2 153,642 151,715.8 44.3,711.8" fill="#050505"/>
<polygon points="53.2,646 148.8,645 148.2,682.7 52.2,663.3" fill="url(#gRefl)"/>
<rect x="90.5" y="716.5" width="22" height="17" fill="#111"/>
<ellipse cx="97.5" cy="736.6" rx="26.4" ry="5.3" fill="#141414"/>
<ellipse cx="97.5" cy="735" rx="23" ry="3.2" fill="#2b2b2b"/>
<rect x="88.5" y="713.2" width="4.5" height="1.2" fill="#aaa"/><g fill="#555"><rect x="122" y="715" width="1" height="1"/><rect x="127" y="715" width="1" height="1"/><rect x="132" y="715.2" width="1" height="1"/><rect x="137" y="715.3" width="1" height="1"/><rect x="142" y="715.5" width="1" height="1"/></g>
</g>
<text x="114.4" y="761.9" class="cap" font-size="9.6" textLength="37.6" lengthAdjust="spacing">Computer</text>

<!-- RJ45 -->
<g id="rj45">
<rect x="295.4" y="681.1" width="37.9" height="50.6" rx="3" fill="#fff" stroke="#231f20" stroke-width="1.5"/>
<path d="M295.8,699.2 H299.4 V695.2 H303.7 V688 H325.7 V725.2 H303.7 V718 H299.4 V713.6 H295.8" fill="none" stroke="#231f20" stroke-width="1.4"/>
<g fill="#231f20">
<rect x="320.3" y="693.3" width="5.4" height="1.7"/><rect x="320.3" y="696.9" width="5.4" height="1.7"/><rect x="320.3" y="700.3" width="5.4" height="1.7"/><rect x="320.3" y="703.8" width="5.4" height="1.7"/>
<rect x="320.3" y="707.4" width="5.4" height="1.7"/><rect x="320.3" y="711" width="5.4" height="1.7"/><rect x="320.3" y="714.6" width="5.4" height="1.7"/><rect x="320.3" y="718.2" width="5.4" height="1.7"/>
</g>
</g>

<!-- Access control board -->
<g id="acb">
<rect x="712.3" y="732.8" width="123.2" height="60" fill="#a6d8f2"/>
<rect x="689.7" y="734.5" width="20.3" height="55.5" fill="#1f9a45" stroke="#231f20" stroke-width="1"/>
<rect x="712.3" y="734.5" width="32" height="55.5" fill="#1f9a45" stroke="#231f20" stroke-width="1"/>
<g fill="#fff" stroke="#231f20" stroke-width="0.9">
<circle cx="700.2" cy="742.6" r="3.8"/><circle cx="700.2" cy="756.9" r="3.8"/><circle cx="700.2" cy="770.2" r="3.8"/><circle cx="700.2" cy="783" r="3.8"/>
</g>
<g stroke="#231f20" stroke-width="0.9"><path d="M698,740.4 L702.4,744.8 M698,754.7 L702.4,759.1 M698,768 L702.4,772.4 M698,780.8 L702.4,785.2"/></g>
<g class="lb" font-size="10.2" stroke="#111" stroke-width="0.35" fill="#111">
<text x="716.5" y="746.1" lengthAdjust="spacingAndGlyphs" textLength="23.4">WG1</text>
<text x="716.5" y="760.8" lengthAdjust="spacingAndGlyphs" textLength="23.4">WG0</text>
<text x="716.5" y="775.3" lengthAdjust="spacingAndGlyphs" textLength="24">GND</text>
<text x="716.5" y="788.1" textLength="17" lengthAdjust="spacingAndGlyphs">12V</text>
</g>
</g>
<text x="747.3" y="767.3" class="cap" font-size="9.6" textLength="87.5" lengthAdjust="spacing">Access Control Board</text>

</svg>
</body></html>
